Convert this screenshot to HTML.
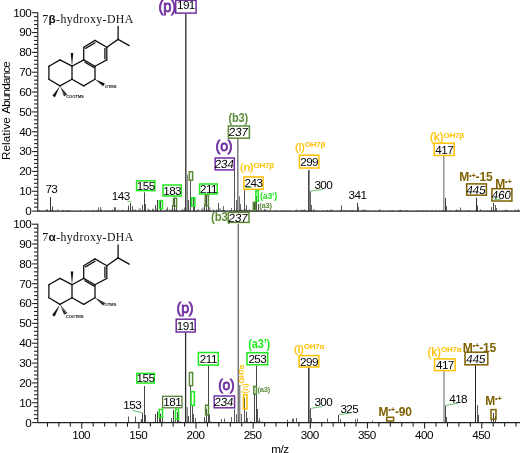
<!DOCTYPE html>
<html><head><meta charset="utf-8"><title>Mass spectra</title>
<style>
html,body{margin:0;padding:0;background:#fff}
body{width:520px;height:453px;overflow:hidden}
.ax{font-family:"Liberation Sans",Arial,sans-serif;font-size:11.7px;fill:#000;letter-spacing:-0.55px}
.lb{font-family:"Liberation Sans",Arial,sans-serif;font-weight:bold;letter-spacing:-0.2px}
.ti{font-family:"Liberation Serif","Times New Roman",serif;font-size:11.8px;fill:#111;letter-spacing:0.4px}
.gk{font-family:"Liberation Sans",sans-serif;font-weight:bold}
.tiny{font-family:"Liberation Sans",sans-serif;font-size:4.2px;fill:#111;font-weight:bold;letter-spacing:-0.15px}
</style></head><body>
<svg width="520" height="453" viewBox="0 0 520 453" style="display:block">
<rect width="520" height="453" fill="#fff"/>
<g id="noise">
<line x1="38.32" y1="210.42" x2="38.32" y2="211.10" stroke="#444" stroke-width="0.8"/>
<line x1="39.46" y1="210.38" x2="39.46" y2="211.10" stroke="#444" stroke-width="0.8"/>
<line x1="41.75" y1="210.79" x2="41.75" y2="211.10" stroke="#444" stroke-width="0.8"/>
<line x1="44.04" y1="210.64" x2="44.04" y2="211.10" stroke="#444" stroke-width="0.8"/>
<line x1="46.32" y1="209.26" x2="46.32" y2="211.10" stroke="#444" stroke-width="0.8"/>
<line x1="47.46" y1="209.46" x2="47.46" y2="211.10" stroke="#444" stroke-width="0.8"/>
<line x1="48.61" y1="210.36" x2="48.61" y2="211.10" stroke="#444" stroke-width="0.8"/>
<line x1="50.89" y1="209.36" x2="50.89" y2="211.10" stroke="#444" stroke-width="0.8"/>
<line x1="53.18" y1="210.27" x2="53.18" y2="211.10" stroke="#444" stroke-width="0.8"/>
<line x1="55.46" y1="210.78" x2="55.46" y2="211.10" stroke="#444" stroke-width="0.8"/>
<line x1="57.75" y1="209.38" x2="57.75" y2="211.10" stroke="#444" stroke-width="0.8"/>
<line x1="62.32" y1="210.24" x2="62.32" y2="211.10" stroke="#444" stroke-width="0.8"/>
<line x1="63.46" y1="210.15" x2="63.46" y2="211.10" stroke="#444" stroke-width="0.8"/>
<line x1="65.75" y1="210.70" x2="65.75" y2="211.10" stroke="#444" stroke-width="0.8"/>
<line x1="66.89" y1="210.12" x2="66.89" y2="211.10" stroke="#444" stroke-width="0.8"/>
<line x1="68.04" y1="210.36" x2="68.04" y2="211.10" stroke="#444" stroke-width="0.8"/>
<line x1="69.18" y1="210.44" x2="69.18" y2="211.10" stroke="#444" stroke-width="0.8"/>
<line x1="70.32" y1="210.55" x2="70.32" y2="211.10" stroke="#444" stroke-width="0.8"/>
<line x1="80.61" y1="210.20" x2="80.61" y2="211.10" stroke="#444" stroke-width="0.8"/>
<line x1="86.32" y1="210.22" x2="86.32" y2="211.10" stroke="#444" stroke-width="0.8"/>
<line x1="88.61" y1="210.76" x2="88.61" y2="211.10" stroke="#444" stroke-width="0.8"/>
<line x1="92.04" y1="210.24" x2="92.04" y2="211.10" stroke="#444" stroke-width="0.8"/>
<line x1="93.18" y1="210.69" x2="93.18" y2="211.10" stroke="#444" stroke-width="0.8"/>
<line x1="94.32" y1="210.26" x2="94.32" y2="211.10" stroke="#444" stroke-width="0.8"/>
<line x1="96.61" y1="210.37" x2="96.61" y2="211.10" stroke="#444" stroke-width="0.8"/>
<line x1="97.75" y1="210.30" x2="97.75" y2="211.10" stroke="#444" stroke-width="0.8"/>
<line x1="98.89" y1="210.18" x2="98.89" y2="211.10" stroke="#444" stroke-width="0.8"/>
<line x1="101.18" y1="209.10" x2="101.18" y2="211.10" stroke="#444" stroke-width="0.8"/>
<line x1="102.32" y1="210.75" x2="102.32" y2="211.10" stroke="#444" stroke-width="0.8"/>
<line x1="104.61" y1="210.66" x2="104.61" y2="211.10" stroke="#444" stroke-width="0.8"/>
<line x1="105.75" y1="210.37" x2="105.75" y2="211.10" stroke="#444" stroke-width="0.8"/>
<line x1="106.89" y1="210.77" x2="106.89" y2="211.10" stroke="#444" stroke-width="0.8"/>
<line x1="109.18" y1="210.13" x2="109.18" y2="211.10" stroke="#444" stroke-width="0.8"/>
<line x1="111.46" y1="210.48" x2="111.46" y2="211.10" stroke="#444" stroke-width="0.8"/>
<line x1="112.61" y1="209.46" x2="112.61" y2="211.10" stroke="#444" stroke-width="0.8"/>
<line x1="118.32" y1="209.67" x2="118.32" y2="211.10" stroke="#444" stroke-width="0.8"/>
<line x1="120.61" y1="210.59" x2="120.61" y2="211.10" stroke="#444" stroke-width="0.8"/>
<line x1="122.89" y1="209.55" x2="122.89" y2="211.10" stroke="#444" stroke-width="0.8"/>
<line x1="124.04" y1="210.51" x2="124.04" y2="211.10" stroke="#444" stroke-width="0.8"/>
<line x1="126.32" y1="210.37" x2="126.32" y2="211.10" stroke="#444" stroke-width="0.8"/>
<line x1="127.46" y1="210.36" x2="127.46" y2="211.10" stroke="#444" stroke-width="0.8"/>
<line x1="128.61" y1="209.26" x2="128.61" y2="211.10" stroke="#444" stroke-width="0.8"/>
<line x1="132.04" y1="210.48" x2="132.04" y2="211.10" stroke="#444" stroke-width="0.8"/>
<line x1="133.18" y1="209.59" x2="133.18" y2="211.10" stroke="#444" stroke-width="0.8"/>
<line x1="134.32" y1="210.12" x2="134.32" y2="211.10" stroke="#444" stroke-width="0.8"/>
<line x1="135.46" y1="209.62" x2="135.46" y2="211.10" stroke="#444" stroke-width="0.8"/>
<line x1="136.61" y1="210.52" x2="136.61" y2="211.10" stroke="#444" stroke-width="0.8"/>
<line x1="137.75" y1="210.61" x2="137.75" y2="211.10" stroke="#444" stroke-width="0.8"/>
<line x1="138.89" y1="209.47" x2="138.89" y2="211.10" stroke="#444" stroke-width="0.8"/>
<line x1="140.04" y1="207.99" x2="140.04" y2="211.10" stroke="#444" stroke-width="0.8"/>
<line x1="141.18" y1="210.56" x2="141.18" y2="211.10" stroke="#444" stroke-width="0.8"/>
<line x1="143.46" y1="210.72" x2="143.46" y2="211.10" stroke="#444" stroke-width="0.8"/>
<line x1="144.61" y1="210.24" x2="144.61" y2="211.10" stroke="#444" stroke-width="0.8"/>
<line x1="145.75" y1="210.60" x2="145.75" y2="211.10" stroke="#444" stroke-width="0.8"/>
<line x1="148.04" y1="208.65" x2="148.04" y2="211.10" stroke="#444" stroke-width="0.8"/>
<line x1="149.18" y1="209.47" x2="149.18" y2="211.10" stroke="#444" stroke-width="0.8"/>
<line x1="150.32" y1="210.14" x2="150.32" y2="211.10" stroke="#444" stroke-width="0.8"/>
<line x1="152.61" y1="208.63" x2="152.61" y2="211.10" stroke="#444" stroke-width="0.8"/>
<line x1="153.75" y1="209.16" x2="153.75" y2="211.10" stroke="#444" stroke-width="0.8"/>
<line x1="156.04" y1="209.22" x2="156.04" y2="211.10" stroke="#444" stroke-width="0.8"/>
<line x1="157.18" y1="208.28" x2="157.18" y2="211.10" stroke="#444" stroke-width="0.8"/>
<line x1="158.32" y1="210.17" x2="158.32" y2="211.10" stroke="#444" stroke-width="0.8"/>
<line x1="161.75" y1="209.50" x2="161.75" y2="211.10" stroke="#444" stroke-width="0.8"/>
<line x1="164.04" y1="210.14" x2="164.04" y2="211.10" stroke="#444" stroke-width="0.8"/>
<line x1="165.18" y1="210.62" x2="165.18" y2="211.10" stroke="#444" stroke-width="0.8"/>
<line x1="166.32" y1="208.80" x2="166.32" y2="211.10" stroke="#444" stroke-width="0.8"/>
<line x1="167.46" y1="207.22" x2="167.46" y2="211.10" stroke="#444" stroke-width="0.8"/>
<line x1="169.75" y1="209.47" x2="169.75" y2="211.10" stroke="#444" stroke-width="0.8"/>
<line x1="170.89" y1="210.39" x2="170.89" y2="211.10" stroke="#444" stroke-width="0.8"/>
<line x1="172.04" y1="209.20" x2="172.04" y2="211.10" stroke="#444" stroke-width="0.8"/>
<line x1="174.32" y1="208.18" x2="174.32" y2="211.10" stroke="#444" stroke-width="0.8"/>
<line x1="175.46" y1="209.79" x2="175.46" y2="211.10" stroke="#444" stroke-width="0.8"/>
<line x1="176.61" y1="208.90" x2="176.61" y2="211.10" stroke="#444" stroke-width="0.8"/>
<line x1="177.75" y1="210.60" x2="177.75" y2="211.10" stroke="#444" stroke-width="0.8"/>
<line x1="178.89" y1="210.71" x2="178.89" y2="211.10" stroke="#444" stroke-width="0.8"/>
<line x1="181.18" y1="210.54" x2="181.18" y2="211.10" stroke="#444" stroke-width="0.8"/>
<line x1="182.32" y1="209.02" x2="182.32" y2="211.10" stroke="#444" stroke-width="0.8"/>
<line x1="183.46" y1="210.13" x2="183.46" y2="211.10" stroke="#444" stroke-width="0.8"/>
<line x1="184.61" y1="207.59" x2="184.61" y2="211.10" stroke="#444" stroke-width="0.8"/>
<line x1="185.75" y1="209.85" x2="185.75" y2="211.10" stroke="#444" stroke-width="0.8"/>
<line x1="186.89" y1="210.00" x2="186.89" y2="211.10" stroke="#444" stroke-width="0.8"/>
<line x1="188.04" y1="210.18" x2="188.04" y2="211.10" stroke="#444" stroke-width="0.8"/>
<line x1="189.18" y1="210.17" x2="189.18" y2="211.10" stroke="#444" stroke-width="0.8"/>
<line x1="190.32" y1="208.36" x2="190.32" y2="211.10" stroke="#444" stroke-width="0.8"/>
<line x1="194.89" y1="210.02" x2="194.89" y2="211.10" stroke="#444" stroke-width="0.8"/>
<line x1="197.18" y1="210.12" x2="197.18" y2="211.10" stroke="#444" stroke-width="0.8"/>
<line x1="198.32" y1="208.91" x2="198.32" y2="211.10" stroke="#444" stroke-width="0.8"/>
<line x1="201.75" y1="209.10" x2="201.75" y2="211.10" stroke="#444" stroke-width="0.8"/>
<line x1="202.89" y1="207.44" x2="202.89" y2="211.10" stroke="#444" stroke-width="0.8"/>
<line x1="204.04" y1="210.26" x2="204.04" y2="211.10" stroke="#444" stroke-width="0.8"/>
<line x1="206.32" y1="209.07" x2="206.32" y2="211.10" stroke="#444" stroke-width="0.8"/>
<line x1="207.46" y1="210.14" x2="207.46" y2="211.10" stroke="#444" stroke-width="0.8"/>
<line x1="208.61" y1="210.34" x2="208.61" y2="211.10" stroke="#444" stroke-width="0.8"/>
<line x1="209.75" y1="207.18" x2="209.75" y2="211.10" stroke="#444" stroke-width="0.8"/>
<line x1="210.89" y1="210.32" x2="210.89" y2="211.10" stroke="#444" stroke-width="0.8"/>
<line x1="213.18" y1="209.46" x2="213.18" y2="211.10" stroke="#444" stroke-width="0.8"/>
<line x1="214.32" y1="210.73" x2="214.32" y2="211.10" stroke="#444" stroke-width="0.8"/>
<line x1="216.61" y1="209.60" x2="216.61" y2="211.10" stroke="#444" stroke-width="0.8"/>
<line x1="217.75" y1="209.79" x2="217.75" y2="211.10" stroke="#444" stroke-width="0.8"/>
<line x1="220.04" y1="208.09" x2="220.04" y2="211.10" stroke="#444" stroke-width="0.8"/>
<line x1="221.18" y1="210.53" x2="221.18" y2="211.10" stroke="#444" stroke-width="0.8"/>
<line x1="222.32" y1="210.02" x2="222.32" y2="211.10" stroke="#444" stroke-width="0.8"/>
<line x1="223.46" y1="210.57" x2="223.46" y2="211.10" stroke="#444" stroke-width="0.8"/>
<line x1="224.61" y1="210.11" x2="224.61" y2="211.10" stroke="#444" stroke-width="0.8"/>
<line x1="230.32" y1="210.29" x2="230.32" y2="211.10" stroke="#444" stroke-width="0.8"/>
<line x1="231.46" y1="208.00" x2="231.46" y2="211.10" stroke="#444" stroke-width="0.8"/>
<line x1="233.75" y1="210.61" x2="233.75" y2="211.10" stroke="#444" stroke-width="0.8"/>
<line x1="234.89" y1="210.67" x2="234.89" y2="211.10" stroke="#444" stroke-width="0.8"/>
<line x1="237.18" y1="209.09" x2="237.18" y2="211.10" stroke="#444" stroke-width="0.8"/>
<line x1="239.46" y1="210.17" x2="239.46" y2="211.10" stroke="#444" stroke-width="0.8"/>
<line x1="241.75" y1="209.30" x2="241.75" y2="211.10" stroke="#444" stroke-width="0.8"/>
<line x1="242.89" y1="210.39" x2="242.89" y2="211.10" stroke="#444" stroke-width="0.8"/>
<line x1="244.04" y1="209.70" x2="244.04" y2="211.10" stroke="#444" stroke-width="0.8"/>
<line x1="245.18" y1="208.79" x2="245.18" y2="211.10" stroke="#444" stroke-width="0.8"/>
<line x1="246.32" y1="208.65" x2="246.32" y2="211.10" stroke="#444" stroke-width="0.8"/>
<line x1="247.46" y1="210.26" x2="247.46" y2="211.10" stroke="#444" stroke-width="0.8"/>
<line x1="248.61" y1="210.33" x2="248.61" y2="211.10" stroke="#444" stroke-width="0.8"/>
<line x1="249.75" y1="209.14" x2="249.75" y2="211.10" stroke="#444" stroke-width="0.8"/>
<line x1="252.04" y1="209.99" x2="252.04" y2="211.10" stroke="#444" stroke-width="0.8"/>
<line x1="253.18" y1="210.30" x2="253.18" y2="211.10" stroke="#444" stroke-width="0.8"/>
<line x1="254.32" y1="209.42" x2="254.32" y2="211.10" stroke="#444" stroke-width="0.8"/>
<line x1="255.46" y1="208.79" x2="255.46" y2="211.10" stroke="#444" stroke-width="0.8"/>
<line x1="256.61" y1="208.68" x2="256.61" y2="211.10" stroke="#444" stroke-width="0.8"/>
<line x1="257.75" y1="210.57" x2="257.75" y2="211.10" stroke="#444" stroke-width="0.8"/>
<line x1="261.18" y1="208.82" x2="261.18" y2="211.10" stroke="#444" stroke-width="0.8"/>
<line x1="263.46" y1="210.41" x2="263.46" y2="211.10" stroke="#444" stroke-width="0.8"/>
<line x1="264.61" y1="208.88" x2="264.61" y2="211.10" stroke="#444" stroke-width="0.8"/>
<line x1="265.75" y1="209.40" x2="265.75" y2="211.10" stroke="#444" stroke-width="0.8"/>
<line x1="266.89" y1="210.42" x2="266.89" y2="211.10" stroke="#444" stroke-width="0.8"/>
<line x1="269.18" y1="210.21" x2="269.18" y2="211.10" stroke="#444" stroke-width="0.8"/>
<line x1="270.32" y1="210.61" x2="270.32" y2="211.10" stroke="#444" stroke-width="0.8"/>
<line x1="271.46" y1="210.72" x2="271.46" y2="211.10" stroke="#444" stroke-width="0.8"/>
<line x1="274.89" y1="210.67" x2="274.89" y2="211.10" stroke="#444" stroke-width="0.8"/>
<line x1="276.04" y1="210.28" x2="276.04" y2="211.10" stroke="#444" stroke-width="0.8"/>
<line x1="280.61" y1="210.52" x2="280.61" y2="211.10" stroke="#444" stroke-width="0.8"/>
<line x1="281.75" y1="210.43" x2="281.75" y2="211.10" stroke="#444" stroke-width="0.8"/>
<line x1="284.04" y1="210.62" x2="284.04" y2="211.10" stroke="#444" stroke-width="0.8"/>
<line x1="286.32" y1="210.24" x2="286.32" y2="211.10" stroke="#444" stroke-width="0.8"/>
<line x1="289.75" y1="210.41" x2="289.75" y2="211.10" stroke="#444" stroke-width="0.8"/>
<line x1="295.46" y1="210.20" x2="295.46" y2="211.10" stroke="#444" stroke-width="0.8"/>
<line x1="296.61" y1="209.50" x2="296.61" y2="211.10" stroke="#444" stroke-width="0.8"/>
<line x1="298.89" y1="210.26" x2="298.89" y2="211.10" stroke="#444" stroke-width="0.8"/>
<line x1="301.18" y1="209.58" x2="301.18" y2="211.10" stroke="#444" stroke-width="0.8"/>
<line x1="302.32" y1="209.91" x2="302.32" y2="211.10" stroke="#444" stroke-width="0.8"/>
<line x1="303.46" y1="210.06" x2="303.46" y2="211.10" stroke="#444" stroke-width="0.8"/>
<line x1="304.61" y1="209.45" x2="304.61" y2="211.10" stroke="#444" stroke-width="0.8"/>
<line x1="305.75" y1="210.40" x2="305.75" y2="211.10" stroke="#444" stroke-width="0.8"/>
<line x1="309.18" y1="210.25" x2="309.18" y2="211.10" stroke="#444" stroke-width="0.8"/>
<line x1="311.46" y1="210.55" x2="311.46" y2="211.10" stroke="#444" stroke-width="0.8"/>
<line x1="312.61" y1="210.75" x2="312.61" y2="211.10" stroke="#444" stroke-width="0.8"/>
<line x1="313.75" y1="209.17" x2="313.75" y2="211.10" stroke="#444" stroke-width="0.8"/>
<line x1="314.89" y1="210.19" x2="314.89" y2="211.10" stroke="#444" stroke-width="0.8"/>
<line x1="317.18" y1="210.20" x2="317.18" y2="211.10" stroke="#444" stroke-width="0.8"/>
<line x1="322.89" y1="210.24" x2="322.89" y2="211.10" stroke="#444" stroke-width="0.8"/>
<line x1="326.32" y1="210.27" x2="326.32" y2="211.10" stroke="#444" stroke-width="0.8"/>
<line x1="327.46" y1="209.99" x2="327.46" y2="211.10" stroke="#444" stroke-width="0.8"/>
<line x1="328.61" y1="210.75" x2="328.61" y2="211.10" stroke="#444" stroke-width="0.8"/>
<line x1="329.75" y1="210.69" x2="329.75" y2="211.10" stroke="#444" stroke-width="0.8"/>
<line x1="330.89" y1="209.40" x2="330.89" y2="211.10" stroke="#444" stroke-width="0.8"/>
<line x1="332.04" y1="209.68" x2="332.04" y2="211.10" stroke="#444" stroke-width="0.8"/>
<line x1="334.32" y1="210.47" x2="334.32" y2="211.10" stroke="#444" stroke-width="0.8"/>
<line x1="336.61" y1="210.67" x2="336.61" y2="211.10" stroke="#444" stroke-width="0.8"/>
<line x1="340.04" y1="210.54" x2="340.04" y2="211.10" stroke="#444" stroke-width="0.8"/>
<line x1="341.18" y1="209.50" x2="341.18" y2="211.10" stroke="#444" stroke-width="0.8"/>
<line x1="342.32" y1="210.80" x2="342.32" y2="211.10" stroke="#444" stroke-width="0.8"/>
<line x1="343.46" y1="210.25" x2="343.46" y2="211.10" stroke="#444" stroke-width="0.8"/>
<line x1="344.61" y1="210.48" x2="344.61" y2="211.10" stroke="#444" stroke-width="0.8"/>
<line x1="345.75" y1="210.65" x2="345.75" y2="211.10" stroke="#444" stroke-width="0.8"/>
<line x1="346.89" y1="210.52" x2="346.89" y2="211.10" stroke="#444" stroke-width="0.8"/>
<line x1="348.04" y1="210.78" x2="348.04" y2="211.10" stroke="#444" stroke-width="0.8"/>
<line x1="349.18" y1="210.68" x2="349.18" y2="211.10" stroke="#444" stroke-width="0.8"/>
<line x1="350.32" y1="210.04" x2="350.32" y2="211.10" stroke="#444" stroke-width="0.8"/>
<line x1="351.46" y1="210.49" x2="351.46" y2="211.10" stroke="#444" stroke-width="0.8"/>
<line x1="352.61" y1="210.31" x2="352.61" y2="211.10" stroke="#444" stroke-width="0.8"/>
<line x1="353.75" y1="210.52" x2="353.75" y2="211.10" stroke="#444" stroke-width="0.8"/>
<line x1="354.89" y1="210.78" x2="354.89" y2="211.10" stroke="#444" stroke-width="0.8"/>
<line x1="357.18" y1="210.73" x2="357.18" y2="211.10" stroke="#444" stroke-width="0.8"/>
<line x1="358.32" y1="209.94" x2="358.32" y2="211.10" stroke="#444" stroke-width="0.8"/>
<line x1="360.61" y1="210.71" x2="360.61" y2="211.10" stroke="#444" stroke-width="0.8"/>
<line x1="361.75" y1="210.29" x2="361.75" y2="211.10" stroke="#444" stroke-width="0.8"/>
<line x1="362.89" y1="210.25" x2="362.89" y2="211.10" stroke="#444" stroke-width="0.8"/>
<line x1="364.04" y1="209.17" x2="364.04" y2="211.10" stroke="#444" stroke-width="0.8"/>
<line x1="365.18" y1="210.63" x2="365.18" y2="211.10" stroke="#444" stroke-width="0.8"/>
<line x1="366.32" y1="210.23" x2="366.32" y2="211.10" stroke="#444" stroke-width="0.8"/>
<line x1="368.61" y1="210.73" x2="368.61" y2="211.10" stroke="#444" stroke-width="0.8"/>
<line x1="373.18" y1="210.78" x2="373.18" y2="211.10" stroke="#444" stroke-width="0.8"/>
<line x1="374.32" y1="210.68" x2="374.32" y2="211.10" stroke="#444" stroke-width="0.8"/>
<line x1="375.46" y1="210.76" x2="375.46" y2="211.10" stroke="#444" stroke-width="0.8"/>
<line x1="378.89" y1="210.12" x2="378.89" y2="211.10" stroke="#444" stroke-width="0.8"/>
<line x1="380.04" y1="209.30" x2="380.04" y2="211.10" stroke="#444" stroke-width="0.8"/>
<line x1="383.46" y1="210.59" x2="383.46" y2="211.10" stroke="#444" stroke-width="0.8"/>
<line x1="386.89" y1="210.59" x2="386.89" y2="211.10" stroke="#444" stroke-width="0.8"/>
<line x1="389.18" y1="210.53" x2="389.18" y2="211.10" stroke="#444" stroke-width="0.8"/>
<line x1="390.32" y1="210.32" x2="390.32" y2="211.10" stroke="#444" stroke-width="0.8"/>
<line x1="392.61" y1="210.28" x2="392.61" y2="211.10" stroke="#444" stroke-width="0.8"/>
<line x1="398.32" y1="210.51" x2="398.32" y2="211.10" stroke="#444" stroke-width="0.8"/>
<line x1="399.46" y1="210.25" x2="399.46" y2="211.10" stroke="#444" stroke-width="0.8"/>
<line x1="400.61" y1="209.83" x2="400.61" y2="211.10" stroke="#444" stroke-width="0.8"/>
<line x1="401.75" y1="210.30" x2="401.75" y2="211.10" stroke="#444" stroke-width="0.8"/>
<line x1="405.18" y1="210.46" x2="405.18" y2="211.10" stroke="#444" stroke-width="0.8"/>
<line x1="406.32" y1="210.30" x2="406.32" y2="211.10" stroke="#444" stroke-width="0.8"/>
<line x1="407.46" y1="210.47" x2="407.46" y2="211.10" stroke="#444" stroke-width="0.8"/>
<line x1="410.89" y1="210.63" x2="410.89" y2="211.10" stroke="#444" stroke-width="0.8"/>
<line x1="416.61" y1="210.17" x2="416.61" y2="211.10" stroke="#444" stroke-width="0.8"/>
<line x1="418.89" y1="210.54" x2="418.89" y2="211.10" stroke="#444" stroke-width="0.8"/>
<line x1="420.04" y1="210.52" x2="420.04" y2="211.10" stroke="#444" stroke-width="0.8"/>
<line x1="422.32" y1="210.40" x2="422.32" y2="211.10" stroke="#444" stroke-width="0.8"/>
<line x1="423.46" y1="210.74" x2="423.46" y2="211.10" stroke="#444" stroke-width="0.8"/>
<line x1="425.75" y1="210.77" x2="425.75" y2="211.10" stroke="#444" stroke-width="0.8"/>
<line x1="426.89" y1="210.35" x2="426.89" y2="211.10" stroke="#444" stroke-width="0.8"/>
<line x1="429.18" y1="210.64" x2="429.18" y2="211.10" stroke="#444" stroke-width="0.8"/>
<line x1="431.46" y1="210.41" x2="431.46" y2="211.10" stroke="#444" stroke-width="0.8"/>
<line x1="432.61" y1="210.25" x2="432.61" y2="211.10" stroke="#444" stroke-width="0.8"/>
<line x1="436.04" y1="209.91" x2="436.04" y2="211.10" stroke="#444" stroke-width="0.8"/>
<line x1="437.18" y1="210.74" x2="437.18" y2="211.10" stroke="#444" stroke-width="0.8"/>
<line x1="439.46" y1="210.78" x2="439.46" y2="211.10" stroke="#444" stroke-width="0.8"/>
<line x1="441.75" y1="210.17" x2="441.75" y2="211.10" stroke="#444" stroke-width="0.8"/>
<line x1="442.89" y1="210.47" x2="442.89" y2="211.10" stroke="#444" stroke-width="0.8"/>
<line x1="444.04" y1="210.22" x2="444.04" y2="211.10" stroke="#444" stroke-width="0.8"/>
<line x1="449.75" y1="210.38" x2="449.75" y2="211.10" stroke="#444" stroke-width="0.8"/>
<line x1="450.89" y1="210.72" x2="450.89" y2="211.10" stroke="#444" stroke-width="0.8"/>
<line x1="455.46" y1="210.42" x2="455.46" y2="211.10" stroke="#444" stroke-width="0.8"/>
<line x1="456.61" y1="209.37" x2="456.61" y2="211.10" stroke="#444" stroke-width="0.8"/>
<line x1="457.75" y1="210.56" x2="457.75" y2="211.10" stroke="#444" stroke-width="0.8"/>
<line x1="458.89" y1="210.03" x2="458.89" y2="211.10" stroke="#444" stroke-width="0.8"/>
<line x1="462.32" y1="210.35" x2="462.32" y2="211.10" stroke="#444" stroke-width="0.8"/>
<line x1="464.61" y1="210.55" x2="464.61" y2="211.10" stroke="#444" stroke-width="0.8"/>
<line x1="466.89" y1="210.50" x2="466.89" y2="211.10" stroke="#444" stroke-width="0.8"/>
<line x1="468.04" y1="210.65" x2="468.04" y2="211.10" stroke="#444" stroke-width="0.8"/>
<line x1="469.18" y1="210.15" x2="469.18" y2="211.10" stroke="#444" stroke-width="0.8"/>
<line x1="476.04" y1="209.68" x2="476.04" y2="211.10" stroke="#444" stroke-width="0.8"/>
<line x1="480.61" y1="209.33" x2="480.61" y2="211.10" stroke="#444" stroke-width="0.8"/>
<line x1="481.75" y1="210.10" x2="481.75" y2="211.10" stroke="#444" stroke-width="0.8"/>
<line x1="484.04" y1="210.15" x2="484.04" y2="211.10" stroke="#444" stroke-width="0.8"/>
<line x1="485.18" y1="210.73" x2="485.18" y2="211.10" stroke="#444" stroke-width="0.8"/>
<line x1="487.46" y1="210.44" x2="487.46" y2="211.10" stroke="#444" stroke-width="0.8"/>
<line x1="489.75" y1="210.28" x2="489.75" y2="211.10" stroke="#444" stroke-width="0.8"/>
<line x1="490.89" y1="210.50" x2="490.89" y2="211.10" stroke="#444" stroke-width="0.8"/>
<line x1="492.04" y1="210.28" x2="492.04" y2="211.10" stroke="#444" stroke-width="0.8"/>
<line x1="494.32" y1="210.73" x2="494.32" y2="211.10" stroke="#444" stroke-width="0.8"/>
<line x1="495.46" y1="210.51" x2="495.46" y2="211.10" stroke="#444" stroke-width="0.8"/>
<line x1="496.61" y1="210.69" x2="496.61" y2="211.10" stroke="#444" stroke-width="0.8"/>
<line x1="503.46" y1="210.69" x2="503.46" y2="211.10" stroke="#444" stroke-width="0.8"/>
<line x1="504.61" y1="210.48" x2="504.61" y2="211.10" stroke="#444" stroke-width="0.8"/>
<line x1="505.75" y1="209.56" x2="505.75" y2="211.10" stroke="#444" stroke-width="0.8"/>
<line x1="506.89" y1="210.20" x2="506.89" y2="211.10" stroke="#444" stroke-width="0.8"/>
<line x1="508.04" y1="210.48" x2="508.04" y2="211.10" stroke="#444" stroke-width="0.8"/>
<line x1="511.46" y1="210.63" x2="511.46" y2="211.10" stroke="#444" stroke-width="0.8"/>
<line x1="513.75" y1="210.71" x2="513.75" y2="211.10" stroke="#444" stroke-width="0.8"/>
<line x1="514.89" y1="209.56" x2="514.89" y2="211.10" stroke="#444" stroke-width="0.8"/>
<line x1="516.04" y1="210.76" x2="516.04" y2="211.10" stroke="#444" stroke-width="0.8"/>
<line x1="517.18" y1="210.26" x2="517.18" y2="211.10" stroke="#444" stroke-width="0.8"/>
<line x1="518.32" y1="209.12" x2="518.32" y2="211.10" stroke="#444" stroke-width="0.8"/>
<line x1="40.61" y1="422.21" x2="40.61" y2="422.60" stroke="#444" stroke-width="0.8"/>
<line x1="41.75" y1="422.08" x2="41.75" y2="422.60" stroke="#444" stroke-width="0.8"/>
<line x1="44.04" y1="422.03" x2="44.04" y2="422.60" stroke="#444" stroke-width="0.8"/>
<line x1="45.18" y1="422.14" x2="45.18" y2="422.60" stroke="#444" stroke-width="0.8"/>
<line x1="50.89" y1="422.09" x2="50.89" y2="422.60" stroke="#444" stroke-width="0.8"/>
<line x1="57.75" y1="421.92" x2="57.75" y2="422.60" stroke="#444" stroke-width="0.8"/>
<line x1="64.61" y1="422.29" x2="64.61" y2="422.60" stroke="#444" stroke-width="0.8"/>
<line x1="77.18" y1="422.21" x2="77.18" y2="422.60" stroke="#444" stroke-width="0.8"/>
<line x1="88.61" y1="422.14" x2="88.61" y2="422.60" stroke="#444" stroke-width="0.8"/>
<line x1="96.61" y1="422.01" x2="96.61" y2="422.60" stroke="#444" stroke-width="0.8"/>
<line x1="103.46" y1="421.97" x2="103.46" y2="422.60" stroke="#444" stroke-width="0.8"/>
<line x1="124.04" y1="422.17" x2="124.04" y2="422.60" stroke="#444" stroke-width="0.8"/>
<line x1="126.32" y1="422.19" x2="126.32" y2="422.60" stroke="#444" stroke-width="0.8"/>
<line x1="128.61" y1="422.04" x2="128.61" y2="422.60" stroke="#444" stroke-width="0.8"/>
<line x1="134.32" y1="422.16" x2="134.32" y2="422.60" stroke="#444" stroke-width="0.8"/>
<line x1="136.61" y1="422.17" x2="136.61" y2="422.60" stroke="#444" stroke-width="0.8"/>
<line x1="140.04" y1="422.08" x2="140.04" y2="422.60" stroke="#444" stroke-width="0.8"/>
<line x1="141.18" y1="420.61" x2="141.18" y2="422.60" stroke="#444" stroke-width="0.8"/>
<line x1="142.32" y1="421.80" x2="142.32" y2="422.60" stroke="#444" stroke-width="0.8"/>
<line x1="144.61" y1="422.18" x2="144.61" y2="422.60" stroke="#444" stroke-width="0.8"/>
<line x1="146.89" y1="421.82" x2="146.89" y2="422.60" stroke="#444" stroke-width="0.8"/>
<line x1="148.04" y1="421.74" x2="148.04" y2="422.60" stroke="#444" stroke-width="0.8"/>
<line x1="150.32" y1="422.24" x2="150.32" y2="422.60" stroke="#444" stroke-width="0.8"/>
<line x1="151.46" y1="422.18" x2="151.46" y2="422.60" stroke="#444" stroke-width="0.8"/>
<line x1="153.75" y1="421.82" x2="153.75" y2="422.60" stroke="#444" stroke-width="0.8"/>
<line x1="161.75" y1="421.29" x2="161.75" y2="422.60" stroke="#444" stroke-width="0.8"/>
<line x1="164.04" y1="421.82" x2="164.04" y2="422.60" stroke="#444" stroke-width="0.8"/>
<line x1="165.18" y1="422.05" x2="165.18" y2="422.60" stroke="#444" stroke-width="0.8"/>
<line x1="172.04" y1="422.03" x2="172.04" y2="422.60" stroke="#444" stroke-width="0.8"/>
<line x1="173.18" y1="420.89" x2="173.18" y2="422.60" stroke="#444" stroke-width="0.8"/>
<line x1="174.32" y1="421.81" x2="174.32" y2="422.60" stroke="#444" stroke-width="0.8"/>
<line x1="177.75" y1="420.45" x2="177.75" y2="422.60" stroke="#444" stroke-width="0.8"/>
<line x1="178.89" y1="421.50" x2="178.89" y2="422.60" stroke="#444" stroke-width="0.8"/>
<line x1="180.04" y1="421.18" x2="180.04" y2="422.60" stroke="#444" stroke-width="0.8"/>
<line x1="186.89" y1="422.09" x2="186.89" y2="422.60" stroke="#444" stroke-width="0.8"/>
<line x1="188.04" y1="420.72" x2="188.04" y2="422.60" stroke="#444" stroke-width="0.8"/>
<line x1="190.32" y1="421.39" x2="190.32" y2="422.60" stroke="#444" stroke-width="0.8"/>
<line x1="193.75" y1="421.49" x2="193.75" y2="422.60" stroke="#444" stroke-width="0.8"/>
<line x1="197.18" y1="422.12" x2="197.18" y2="422.60" stroke="#444" stroke-width="0.8"/>
<line x1="199.46" y1="421.64" x2="199.46" y2="422.60" stroke="#444" stroke-width="0.8"/>
<line x1="200.61" y1="422.03" x2="200.61" y2="422.60" stroke="#444" stroke-width="0.8"/>
<line x1="205.18" y1="420.66" x2="205.18" y2="422.60" stroke="#444" stroke-width="0.8"/>
<line x1="207.46" y1="422.18" x2="207.46" y2="422.60" stroke="#444" stroke-width="0.8"/>
<line x1="209.75" y1="422.29" x2="209.75" y2="422.60" stroke="#444" stroke-width="0.8"/>
<line x1="210.89" y1="421.28" x2="210.89" y2="422.60" stroke="#444" stroke-width="0.8"/>
<line x1="215.46" y1="421.81" x2="215.46" y2="422.60" stroke="#444" stroke-width="0.8"/>
<line x1="216.61" y1="422.08" x2="216.61" y2="422.60" stroke="#444" stroke-width="0.8"/>
<line x1="224.61" y1="419.92" x2="224.61" y2="422.60" stroke="#444" stroke-width="0.8"/>
<line x1="226.89" y1="422.18" x2="226.89" y2="422.60" stroke="#444" stroke-width="0.8"/>
<line x1="231.46" y1="420.62" x2="231.46" y2="422.60" stroke="#444" stroke-width="0.8"/>
<line x1="232.61" y1="422.03" x2="232.61" y2="422.60" stroke="#444" stroke-width="0.8"/>
<line x1="237.18" y1="422.17" x2="237.18" y2="422.60" stroke="#444" stroke-width="0.8"/>
<line x1="238.32" y1="420.79" x2="238.32" y2="422.60" stroke="#444" stroke-width="0.8"/>
<line x1="239.46" y1="420.59" x2="239.46" y2="422.60" stroke="#444" stroke-width="0.8"/>
<line x1="240.61" y1="422.19" x2="240.61" y2="422.60" stroke="#444" stroke-width="0.8"/>
<line x1="241.75" y1="422.05" x2="241.75" y2="422.60" stroke="#444" stroke-width="0.8"/>
<line x1="244.04" y1="422.10" x2="244.04" y2="422.60" stroke="#444" stroke-width="0.8"/>
<line x1="245.18" y1="420.65" x2="245.18" y2="422.60" stroke="#444" stroke-width="0.8"/>
<line x1="246.32" y1="422.12" x2="246.32" y2="422.60" stroke="#444" stroke-width="0.8"/>
<line x1="250.89" y1="420.95" x2="250.89" y2="422.60" stroke="#444" stroke-width="0.8"/>
<line x1="254.32" y1="420.87" x2="254.32" y2="422.60" stroke="#444" stroke-width="0.8"/>
<line x1="256.61" y1="420.62" x2="256.61" y2="422.60" stroke="#444" stroke-width="0.8"/>
<line x1="257.75" y1="420.80" x2="257.75" y2="422.60" stroke="#444" stroke-width="0.8"/>
<line x1="258.89" y1="420.41" x2="258.89" y2="422.60" stroke="#444" stroke-width="0.8"/>
<line x1="260.04" y1="421.02" x2="260.04" y2="422.60" stroke="#444" stroke-width="0.8"/>
<line x1="262.32" y1="421.44" x2="262.32" y2="422.60" stroke="#444" stroke-width="0.8"/>
<line x1="277.18" y1="421.76" x2="277.18" y2="422.60" stroke="#444" stroke-width="0.8"/>
<line x1="279.46" y1="422.02" x2="279.46" y2="422.60" stroke="#444" stroke-width="0.8"/>
<line x1="280.61" y1="422.13" x2="280.61" y2="422.60" stroke="#444" stroke-width="0.8"/>
<line x1="284.04" y1="421.99" x2="284.04" y2="422.60" stroke="#444" stroke-width="0.8"/>
<line x1="285.18" y1="422.25" x2="285.18" y2="422.60" stroke="#444" stroke-width="0.8"/>
<line x1="288.61" y1="422.16" x2="288.61" y2="422.60" stroke="#444" stroke-width="0.8"/>
<line x1="289.75" y1="421.46" x2="289.75" y2="422.60" stroke="#444" stroke-width="0.8"/>
<line x1="297.75" y1="421.95" x2="297.75" y2="422.60" stroke="#444" stroke-width="0.8"/>
<line x1="301.18" y1="421.80" x2="301.18" y2="422.60" stroke="#444" stroke-width="0.8"/>
<line x1="306.89" y1="421.95" x2="306.89" y2="422.60" stroke="#444" stroke-width="0.8"/>
<line x1="309.18" y1="422.22" x2="309.18" y2="422.60" stroke="#444" stroke-width="0.8"/>
<line x1="318.32" y1="422.02" x2="318.32" y2="422.60" stroke="#444" stroke-width="0.8"/>
<line x1="322.89" y1="421.81" x2="322.89" y2="422.60" stroke="#444" stroke-width="0.8"/>
<line x1="327.46" y1="422.03" x2="327.46" y2="422.60" stroke="#444" stroke-width="0.8"/>
<line x1="330.89" y1="422.23" x2="330.89" y2="422.60" stroke="#444" stroke-width="0.8"/>
<line x1="334.32" y1="422.30" x2="334.32" y2="422.60" stroke="#444" stroke-width="0.8"/>
<line x1="335.46" y1="421.91" x2="335.46" y2="422.60" stroke="#444" stroke-width="0.8"/>
<line x1="343.46" y1="422.16" x2="343.46" y2="422.60" stroke="#444" stroke-width="0.8"/>
<line x1="345.75" y1="422.28" x2="345.75" y2="422.60" stroke="#444" stroke-width="0.8"/>
<line x1="350.32" y1="421.90" x2="350.32" y2="422.60" stroke="#444" stroke-width="0.8"/>
<line x1="364.04" y1="422.14" x2="364.04" y2="422.60" stroke="#444" stroke-width="0.8"/>
<line x1="369.75" y1="422.29" x2="369.75" y2="422.60" stroke="#444" stroke-width="0.8"/>
<line x1="383.46" y1="421.90" x2="383.46" y2="422.60" stroke="#444" stroke-width="0.8"/>
<line x1="385.75" y1="421.84" x2="385.75" y2="422.60" stroke="#444" stroke-width="0.8"/>
<line x1="390.32" y1="421.80" x2="390.32" y2="422.60" stroke="#444" stroke-width="0.8"/>
<line x1="391.46" y1="422.12" x2="391.46" y2="422.60" stroke="#444" stroke-width="0.8"/>
<line x1="393.75" y1="422.05" x2="393.75" y2="422.60" stroke="#444" stroke-width="0.8"/>
<line x1="399.46" y1="422.06" x2="399.46" y2="422.60" stroke="#444" stroke-width="0.8"/>
<line x1="400.61" y1="421.95" x2="400.61" y2="422.60" stroke="#444" stroke-width="0.8"/>
<line x1="404.04" y1="421.96" x2="404.04" y2="422.60" stroke="#444" stroke-width="0.8"/>
<line x1="409.75" y1="421.99" x2="409.75" y2="422.60" stroke="#444" stroke-width="0.8"/>
<line x1="410.89" y1="421.82" x2="410.89" y2="422.60" stroke="#444" stroke-width="0.8"/>
<line x1="412.04" y1="421.82" x2="412.04" y2="422.60" stroke="#444" stroke-width="0.8"/>
<line x1="414.32" y1="421.93" x2="414.32" y2="422.60" stroke="#444" stroke-width="0.8"/>
<line x1="420.04" y1="421.96" x2="420.04" y2="422.60" stroke="#444" stroke-width="0.8"/>
<line x1="423.46" y1="422.27" x2="423.46" y2="422.60" stroke="#444" stroke-width="0.8"/>
<line x1="433.75" y1="422.15" x2="433.75" y2="422.60" stroke="#444" stroke-width="0.8"/>
<line x1="447.46" y1="422.18" x2="447.46" y2="422.60" stroke="#444" stroke-width="0.8"/>
<line x1="453.18" y1="422.21" x2="453.18" y2="422.60" stroke="#444" stroke-width="0.8"/>
<line x1="461.18" y1="421.93" x2="461.18" y2="422.60" stroke="#444" stroke-width="0.8"/>
<line x1="473.75" y1="421.92" x2="473.75" y2="422.60" stroke="#444" stroke-width="0.8"/>
<line x1="490.89" y1="421.91" x2="490.89" y2="422.60" stroke="#444" stroke-width="0.8"/>
<line x1="493.18" y1="422.00" x2="493.18" y2="422.60" stroke="#444" stroke-width="0.8"/>
<line x1="500.04" y1="422.19" x2="500.04" y2="422.60" stroke="#444" stroke-width="0.8"/>
<line x1="508.04" y1="421.83" x2="508.04" y2="422.60" stroke="#444" stroke-width="0.8"/>
<line x1="513.75" y1="421.86" x2="513.75" y2="422.60" stroke="#444" stroke-width="0.8"/>
</g>
<line x1="50.50" y1="197.00" x2="50.50" y2="211.10" stroke="#333" stroke-width="1"/>
<line x1="52.50" y1="206.50" x2="52.50" y2="211.10" stroke="#555" stroke-width="1"/>
<line x1="128.50" y1="205.50" x2="128.50" y2="211.10" stroke="#555" stroke-width="1"/>
<line x1="130.50" y1="203.00" x2="130.50" y2="211.10" stroke="#444" stroke-width="1"/>
<line x1="132.50" y1="206.00" x2="132.50" y2="211.10" stroke="#555" stroke-width="1"/>
<line x1="114.50" y1="207.00" x2="114.50" y2="211.10" stroke="#666" stroke-width="1"/>
<line x1="115.50" y1="207.50" x2="115.50" y2="211.10" stroke="#666" stroke-width="1"/>
<line x1="98.50" y1="207.50" x2="98.50" y2="211.10" stroke="#666" stroke-width="1"/>
<line x1="100.50" y1="207.00" x2="100.50" y2="211.10" stroke="#666" stroke-width="1"/>
<line x1="144.50" y1="192.30" x2="144.50" y2="211.10" stroke="#444" stroke-width="1"/>
<line x1="145.50" y1="204.00" x2="145.50" y2="211.10" stroke="#555" stroke-width="1"/>
<line x1="142.50" y1="205.00" x2="142.50" y2="211.10" stroke="#555" stroke-width="1"/>
<line x1="157.50" y1="200.00" x2="157.50" y2="211.10" stroke="#444" stroke-width="1"/>
<line x1="160.50" y1="201.00" x2="160.50" y2="211.10" stroke="#444" stroke-width="1"/>
<line x1="155.50" y1="205.00" x2="155.50" y2="211.10" stroke="#555" stroke-width="1"/>
<line x1="172.50" y1="205.00" x2="172.50" y2="211.10" stroke="#555" stroke-width="1"/>
<line x1="174.50" y1="199.00" x2="174.50" y2="211.10" stroke="#444" stroke-width="1"/>
<line x1="176.50" y1="204.00" x2="176.50" y2="211.10" stroke="#555" stroke-width="1"/>
<line x1="185.80" y1="13.50" x2="185.80" y2="211.10" stroke="#2a2a2a" stroke-width="1.3"/>
<line x1="187.30" y1="174.60" x2="187.30" y2="211.10" stroke="#888" stroke-width="1.5"/>
<line x1="188.50" y1="200.00" x2="188.50" y2="211.10" stroke="#555" stroke-width="1"/>
<line x1="190.50" y1="180.00" x2="190.50" y2="211.10" stroke="#555" stroke-width="1"/>
<line x1="193.50" y1="197.00" x2="193.50" y2="211.10" stroke="#555" stroke-width="1"/>
<line x1="194.50" y1="205.00" x2="194.50" y2="211.10" stroke="#555" stroke-width="1"/>
<line x1="204.50" y1="204.00" x2="204.50" y2="211.10" stroke="#555" stroke-width="1"/>
<line x1="206.50" y1="196.00" x2="206.50" y2="211.10" stroke="#444" stroke-width="1"/>
<line x1="208.50" y1="203.00" x2="208.50" y2="211.10" stroke="#555" stroke-width="1"/>
<line x1="218.50" y1="203.00" x2="218.50" y2="211.10" stroke="#555" stroke-width="1"/>
<line x1="223.50" y1="206.00" x2="223.50" y2="211.10" stroke="#666" stroke-width="1"/>
<line x1="234.50" y1="170.40" x2="234.50" y2="211.10" stroke="#555" stroke-width="1"/>
<line x1="236.50" y1="200.00" x2="236.50" y2="211.10" stroke="#666" stroke-width="1"/>
<line x1="237.80" y1="138.60" x2="237.80" y2="211.10" stroke="#7a7a7a" stroke-width="1.5"/>
<line x1="239.40" y1="196.30" x2="239.40" y2="211.10" stroke="#777" stroke-width="1.3"/>
<line x1="240.50" y1="204.00" x2="240.50" y2="211.10" stroke="#666" stroke-width="1"/>
<line x1="244.50" y1="189.80" x2="244.50" y2="211.10" stroke="#555" stroke-width="1"/>
<line x1="246.50" y1="205.00" x2="246.50" y2="211.10" stroke="#666" stroke-width="1"/>
<line x1="254.50" y1="203.00" x2="254.50" y2="211.10" stroke="#444" stroke-width="1"/>
<line x1="256.50" y1="196.00" x2="256.50" y2="211.10" stroke="#444" stroke-width="1"/>
<line x1="258.50" y1="204.00" x2="258.50" y2="211.10" stroke="#555" stroke-width="1"/>
<line x1="308.80" y1="170.00" x2="308.80" y2="211.10" stroke="#444" stroke-width="1.6"/>
<line x1="310.30" y1="191.20" x2="310.30" y2="211.10" stroke="#555" stroke-width="1.2"/>
<line x1="311.50" y1="205.00" x2="311.50" y2="211.10" stroke="#666" stroke-width="1"/>
<line x1="341.50" y1="205.40" x2="341.50" y2="211.10" stroke="#555" stroke-width="1"/>
<line x1="357.50" y1="202.70" x2="357.50" y2="211.10" stroke="#444" stroke-width="1"/>
<line x1="358.50" y1="207.00" x2="358.50" y2="211.10" stroke="#666" stroke-width="1"/>
<line x1="443.80" y1="156.00" x2="443.80" y2="211.10" stroke="#888" stroke-width="1.3"/>
<line x1="445.50" y1="198.00" x2="445.50" y2="211.10" stroke="#444" stroke-width="1"/>
<line x1="446.50" y1="206.00" x2="446.50" y2="211.10" stroke="#555" stroke-width="1"/>
<line x1="476.50" y1="197.60" x2="476.50" y2="211.10" stroke="#333" stroke-width="1"/>
<line x1="477.50" y1="205.50" x2="477.50" y2="211.10" stroke="#555" stroke-width="1"/>
<line x1="460.50" y1="207.50" x2="460.50" y2="211.10" stroke="#666" stroke-width="1"/>
<line x1="493.50" y1="202.80" x2="493.50" y2="211.10" stroke="#444" stroke-width="1"/>
<line x1="495.50" y1="205.00" x2="495.50" y2="211.10" stroke="#555" stroke-width="1"/>
<line x1="496.50" y1="208.00" x2="496.50" y2="211.10" stroke="#666" stroke-width="1"/>
<line x1="491.50" y1="207.00" x2="491.50" y2="211.10" stroke="#666" stroke-width="1"/>
<line x1="128.50" y1="416.50" x2="128.50" y2="422.60" stroke="#555" stroke-width="1"/>
<line x1="135.50" y1="416.50" x2="135.50" y2="422.60" stroke="#555" stroke-width="1"/>
<line x1="141.50" y1="419.00" x2="141.50" y2="422.60" stroke="#555" stroke-width="1"/>
<line x1="142.50" y1="412.70" x2="142.50" y2="422.60" stroke="#444" stroke-width="1"/>
<line x1="144.50" y1="386.00" x2="144.50" y2="422.60" stroke="#444" stroke-width="1"/>
<line x1="145.50" y1="415.00" x2="145.50" y2="422.60" stroke="#555" stroke-width="1"/>
<line x1="155.50" y1="414.00" x2="155.50" y2="422.60" stroke="#444" stroke-width="1"/>
<line x1="157.50" y1="411.50" x2="157.50" y2="422.60" stroke="#444" stroke-width="1"/>
<line x1="159.50" y1="417.00" x2="159.50" y2="422.60" stroke="#555" stroke-width="1"/>
<line x1="160.50" y1="413.50" x2="160.50" y2="422.60" stroke="#444" stroke-width="1"/>
<line x1="162.50" y1="418.00" x2="162.50" y2="422.60" stroke="#555" stroke-width="1"/>
<line x1="171.50" y1="418.00" x2="171.50" y2="422.60" stroke="#555" stroke-width="1"/>
<line x1="173.50" y1="410.20" x2="173.50" y2="422.60" stroke="#444" stroke-width="1"/>
<line x1="175.50" y1="417.00" x2="175.50" y2="422.60" stroke="#555" stroke-width="1"/>
<line x1="177.50" y1="412.00" x2="177.50" y2="422.60" stroke="#444" stroke-width="1"/>
<line x1="178.50" y1="417.00" x2="178.50" y2="422.60" stroke="#555" stroke-width="1"/>
<line x1="185.60" y1="332.50" x2="185.60" y2="422.60" stroke="#2a2a2a" stroke-width="1.3"/>
<line x1="187.20" y1="407.30" x2="187.20" y2="422.60" stroke="#777" stroke-width="1.4"/>
<line x1="188.50" y1="416.00" x2="188.50" y2="422.60" stroke="#555" stroke-width="1"/>
<line x1="190.50" y1="385.80" x2="190.50" y2="422.60" stroke="#555" stroke-width="1"/>
<line x1="192.50" y1="405.00" x2="192.50" y2="422.60" stroke="#555" stroke-width="1"/>
<line x1="193.50" y1="414.00" x2="193.50" y2="422.60" stroke="#555" stroke-width="1"/>
<line x1="195.50" y1="418.00" x2="195.50" y2="422.60" stroke="#666" stroke-width="1"/>
<line x1="204.50" y1="417.00" x2="204.50" y2="422.60" stroke="#555" stroke-width="1"/>
<line x1="206.50" y1="409.00" x2="206.50" y2="422.60" stroke="#444" stroke-width="1"/>
<line x1="208.50" y1="365.60" x2="208.50" y2="422.60" stroke="#444" stroke-width="1"/>
<line x1="209.50" y1="414.00" x2="209.50" y2="422.60" stroke="#555" stroke-width="1"/>
<line x1="221.50" y1="419.00" x2="221.50" y2="422.60" stroke="#666" stroke-width="1"/>
<line x1="224.50" y1="418.50" x2="224.50" y2="422.60" stroke="#666" stroke-width="1"/>
<line x1="231.50" y1="417.00" x2="231.50" y2="422.60" stroke="#666" stroke-width="1"/>
<line x1="234.50" y1="409.20" x2="234.50" y2="422.60" stroke="#555" stroke-width="1"/>
<line x1="236.50" y1="414.00" x2="236.50" y2="422.60" stroke="#666" stroke-width="1"/>
<line x1="238.30" y1="224.00" x2="238.30" y2="422.60" stroke="#777" stroke-width="1.5"/>
<line x1="239.70" y1="385.00" x2="239.70" y2="422.60" stroke="#888" stroke-width="1.4"/>
<line x1="241.50" y1="414.00" x2="241.50" y2="422.60" stroke="#666" stroke-width="1"/>
<line x1="244.50" y1="397.70" x2="244.50" y2="422.60" stroke="#555" stroke-width="1"/>
<line x1="246.50" y1="411.50" x2="246.50" y2="422.60" stroke="#555" stroke-width="1"/>
<line x1="247.50" y1="418.00" x2="247.50" y2="422.60" stroke="#666" stroke-width="1"/>
<line x1="254.50" y1="394.00" x2="254.50" y2="422.60" stroke="#444" stroke-width="1"/>
<line x1="256.50" y1="365.40" x2="256.50" y2="422.60" stroke="#444" stroke-width="1"/>
<line x1="257.50" y1="409.00" x2="257.50" y2="422.60" stroke="#555" stroke-width="1"/>
<line x1="259.50" y1="418.00" x2="259.50" y2="422.60" stroke="#666" stroke-width="1"/>
<line x1="296.50" y1="418.00" x2="296.50" y2="422.60" stroke="#666" stroke-width="1"/>
<line x1="292.50" y1="418.50" x2="292.50" y2="422.60" stroke="#666" stroke-width="1"/>
<line x1="308.80" y1="367.40" x2="308.80" y2="422.60" stroke="#444" stroke-width="1.6"/>
<line x1="310.40" y1="408.50" x2="310.40" y2="422.60" stroke="#555" stroke-width="1.2"/>
<line x1="311.50" y1="418.00" x2="311.50" y2="422.60" stroke="#666" stroke-width="1"/>
<line x1="338.50" y1="415.00" x2="338.50" y2="422.60" stroke="#444" stroke-width="1"/>
<line x1="340.50" y1="419.00" x2="340.50" y2="422.60" stroke="#666" stroke-width="1"/>
<line x1="327.50" y1="418.50" x2="327.50" y2="422.60" stroke="#666" stroke-width="1"/>
<line x1="357.50" y1="418.50" x2="357.50" y2="422.60" stroke="#666" stroke-width="1"/>
<line x1="355.50" y1="419.00" x2="355.50" y2="422.60" stroke="#666" stroke-width="1"/>
<line x1="390.50" y1="420.50" x2="390.50" y2="422.60" stroke="#666" stroke-width="1"/>
<line x1="287.50" y1="419.60" x2="287.50" y2="422.60" stroke="#666" stroke-width="1"/>
<line x1="293.50" y1="418.60" x2="293.50" y2="422.60" stroke="#666" stroke-width="1"/>
<line x1="357.50" y1="419.60" x2="357.50" y2="422.60" stroke="#666" stroke-width="1"/>
<line x1="372.50" y1="420.60" x2="372.50" y2="422.60" stroke="#666" stroke-width="1"/>
<line x1="444.00" y1="371.00" x2="444.00" y2="422.60" stroke="#888" stroke-width="1.3"/>
<line x1="445.50" y1="405.60" x2="445.50" y2="422.60" stroke="#444" stroke-width="1"/>
<line x1="446.50" y1="417.00" x2="446.50" y2="422.60" stroke="#555" stroke-width="1"/>
<line x1="475.50" y1="365.20" x2="475.50" y2="422.60" stroke="#222" stroke-width="1"/>
<line x1="477.50" y1="405.00" x2="477.50" y2="422.60" stroke="#555" stroke-width="1"/>
<line x1="478.50" y1="415.00" x2="478.50" y2="422.60" stroke="#555" stroke-width="1"/>
<line x1="493.50" y1="413.00" x2="493.50" y2="422.60" stroke="#444" stroke-width="1"/>
<line x1="495.50" y1="416.00" x2="495.50" y2="422.60" stroke="#555" stroke-width="1"/>
<line x1="491.50" y1="419.00" x2="491.50" y2="422.60" stroke="#666" stroke-width="1"/>
<line x1="37.8" y1="12.2" x2="37.8" y2="211.6" stroke="#222" stroke-width="1.1"/>
<line x1="32.099999999999994" y1="211.10" x2="37.8" y2="211.10" stroke="#222" stroke-width="1.1"/>
<text x="31.199999999999996" y="215.00" class="ax" text-anchor="end">0</text>
<line x1="34.0" y1="207.13" x2="37.8" y2="207.13" stroke="#222" stroke-width="1.1"/>
<line x1="34.0" y1="203.16" x2="37.8" y2="203.16" stroke="#222" stroke-width="1.1"/>
<line x1="34.0" y1="199.20" x2="37.8" y2="199.20" stroke="#222" stroke-width="1.1"/>
<line x1="34.0" y1="195.23" x2="37.8" y2="195.23" stroke="#222" stroke-width="1.1"/>
<line x1="32.099999999999994" y1="191.26" x2="37.8" y2="191.26" stroke="#222" stroke-width="1.1"/>
<text x="31.199999999999996" y="195.16" class="ax" text-anchor="end">10</text>
<line x1="34.0" y1="187.29" x2="37.8" y2="187.29" stroke="#222" stroke-width="1.1"/>
<line x1="34.0" y1="183.32" x2="37.8" y2="183.32" stroke="#222" stroke-width="1.1"/>
<line x1="34.0" y1="179.36" x2="37.8" y2="179.36" stroke="#222" stroke-width="1.1"/>
<line x1="34.0" y1="175.39" x2="37.8" y2="175.39" stroke="#222" stroke-width="1.1"/>
<line x1="32.099999999999994" y1="171.42" x2="37.8" y2="171.42" stroke="#222" stroke-width="1.1"/>
<text x="31.199999999999996" y="175.32" class="ax" text-anchor="end">20</text>
<line x1="34.0" y1="167.45" x2="37.8" y2="167.45" stroke="#222" stroke-width="1.1"/>
<line x1="34.0" y1="163.48" x2="37.8" y2="163.48" stroke="#222" stroke-width="1.1"/>
<line x1="34.0" y1="159.52" x2="37.8" y2="159.52" stroke="#222" stroke-width="1.1"/>
<line x1="34.0" y1="155.55" x2="37.8" y2="155.55" stroke="#222" stroke-width="1.1"/>
<line x1="32.099999999999994" y1="151.58" x2="37.8" y2="151.58" stroke="#222" stroke-width="1.1"/>
<text x="31.199999999999996" y="155.48" class="ax" text-anchor="end">30</text>
<line x1="34.0" y1="147.61" x2="37.8" y2="147.61" stroke="#222" stroke-width="1.1"/>
<line x1="34.0" y1="143.64" x2="37.8" y2="143.64" stroke="#222" stroke-width="1.1"/>
<line x1="34.0" y1="139.68" x2="37.8" y2="139.68" stroke="#222" stroke-width="1.1"/>
<line x1="34.0" y1="135.71" x2="37.8" y2="135.71" stroke="#222" stroke-width="1.1"/>
<line x1="32.099999999999994" y1="131.74" x2="37.8" y2="131.74" stroke="#222" stroke-width="1.1"/>
<text x="31.199999999999996" y="135.64" class="ax" text-anchor="end">40</text>
<line x1="34.0" y1="127.77" x2="37.8" y2="127.77" stroke="#222" stroke-width="1.1"/>
<line x1="34.0" y1="123.80" x2="37.8" y2="123.80" stroke="#222" stroke-width="1.1"/>
<line x1="34.0" y1="119.84" x2="37.8" y2="119.84" stroke="#222" stroke-width="1.1"/>
<line x1="34.0" y1="115.87" x2="37.8" y2="115.87" stroke="#222" stroke-width="1.1"/>
<line x1="32.099999999999994" y1="111.90" x2="37.8" y2="111.90" stroke="#222" stroke-width="1.1"/>
<text x="31.199999999999996" y="115.80" class="ax" text-anchor="end">50</text>
<line x1="34.0" y1="107.93" x2="37.8" y2="107.93" stroke="#222" stroke-width="1.1"/>
<line x1="34.0" y1="103.96" x2="37.8" y2="103.96" stroke="#222" stroke-width="1.1"/>
<line x1="34.0" y1="100.00" x2="37.8" y2="100.00" stroke="#222" stroke-width="1.1"/>
<line x1="34.0" y1="96.03" x2="37.8" y2="96.03" stroke="#222" stroke-width="1.1"/>
<line x1="32.099999999999994" y1="92.06" x2="37.8" y2="92.06" stroke="#222" stroke-width="1.1"/>
<text x="31.199999999999996" y="95.96" class="ax" text-anchor="end">60</text>
<line x1="34.0" y1="88.09" x2="37.8" y2="88.09" stroke="#222" stroke-width="1.1"/>
<line x1="34.0" y1="84.12" x2="37.8" y2="84.12" stroke="#222" stroke-width="1.1"/>
<line x1="34.0" y1="80.16" x2="37.8" y2="80.16" stroke="#222" stroke-width="1.1"/>
<line x1="34.0" y1="76.19" x2="37.8" y2="76.19" stroke="#222" stroke-width="1.1"/>
<line x1="32.099999999999994" y1="72.22" x2="37.8" y2="72.22" stroke="#222" stroke-width="1.1"/>
<text x="31.199999999999996" y="76.12" class="ax" text-anchor="end">70</text>
<line x1="34.0" y1="68.25" x2="37.8" y2="68.25" stroke="#222" stroke-width="1.1"/>
<line x1="34.0" y1="64.28" x2="37.8" y2="64.28" stroke="#222" stroke-width="1.1"/>
<line x1="34.0" y1="60.32" x2="37.8" y2="60.32" stroke="#222" stroke-width="1.1"/>
<line x1="34.0" y1="56.35" x2="37.8" y2="56.35" stroke="#222" stroke-width="1.1"/>
<line x1="32.099999999999994" y1="52.38" x2="37.8" y2="52.38" stroke="#222" stroke-width="1.1"/>
<text x="31.199999999999996" y="56.28" class="ax" text-anchor="end">80</text>
<line x1="34.0" y1="48.41" x2="37.8" y2="48.41" stroke="#222" stroke-width="1.1"/>
<line x1="34.0" y1="44.44" x2="37.8" y2="44.44" stroke="#222" stroke-width="1.1"/>
<line x1="34.0" y1="40.48" x2="37.8" y2="40.48" stroke="#222" stroke-width="1.1"/>
<line x1="34.0" y1="36.51" x2="37.8" y2="36.51" stroke="#222" stroke-width="1.1"/>
<line x1="32.099999999999994" y1="32.54" x2="37.8" y2="32.54" stroke="#222" stroke-width="1.1"/>
<text x="31.199999999999996" y="36.44" class="ax" text-anchor="end">90</text>
<line x1="34.0" y1="28.57" x2="37.8" y2="28.57" stroke="#222" stroke-width="1.1"/>
<line x1="34.0" y1="24.60" x2="37.8" y2="24.60" stroke="#222" stroke-width="1.1"/>
<line x1="34.0" y1="20.64" x2="37.8" y2="20.64" stroke="#222" stroke-width="1.1"/>
<line x1="34.0" y1="16.67" x2="37.8" y2="16.67" stroke="#222" stroke-width="1.1"/>
<line x1="32.099999999999994" y1="12.70" x2="37.8" y2="12.70" stroke="#222" stroke-width="1.1"/>
<text x="31.199999999999996" y="16.60" class="ax" text-anchor="end">100</text>
<line x1="37.8" y1="223.7" x2="37.8" y2="423.1" stroke="#222" stroke-width="1.1"/>
<line x1="32.099999999999994" y1="422.60" x2="37.8" y2="422.60" stroke="#222" stroke-width="1.1"/>
<text x="31.199999999999996" y="426.50" class="ax" text-anchor="end">0</text>
<line x1="34.0" y1="418.63" x2="37.8" y2="418.63" stroke="#222" stroke-width="1.1"/>
<line x1="34.0" y1="414.66" x2="37.8" y2="414.66" stroke="#222" stroke-width="1.1"/>
<line x1="34.0" y1="410.70" x2="37.8" y2="410.70" stroke="#222" stroke-width="1.1"/>
<line x1="34.0" y1="406.73" x2="37.8" y2="406.73" stroke="#222" stroke-width="1.1"/>
<line x1="32.099999999999994" y1="402.76" x2="37.8" y2="402.76" stroke="#222" stroke-width="1.1"/>
<text x="31.199999999999996" y="406.66" class="ax" text-anchor="end">10</text>
<line x1="34.0" y1="398.79" x2="37.8" y2="398.79" stroke="#222" stroke-width="1.1"/>
<line x1="34.0" y1="394.82" x2="37.8" y2="394.82" stroke="#222" stroke-width="1.1"/>
<line x1="34.0" y1="390.86" x2="37.8" y2="390.86" stroke="#222" stroke-width="1.1"/>
<line x1="34.0" y1="386.89" x2="37.8" y2="386.89" stroke="#222" stroke-width="1.1"/>
<line x1="32.099999999999994" y1="382.92" x2="37.8" y2="382.92" stroke="#222" stroke-width="1.1"/>
<text x="31.199999999999996" y="386.82" class="ax" text-anchor="end">20</text>
<line x1="34.0" y1="378.95" x2="37.8" y2="378.95" stroke="#222" stroke-width="1.1"/>
<line x1="34.0" y1="374.98" x2="37.8" y2="374.98" stroke="#222" stroke-width="1.1"/>
<line x1="34.0" y1="371.02" x2="37.8" y2="371.02" stroke="#222" stroke-width="1.1"/>
<line x1="34.0" y1="367.05" x2="37.8" y2="367.05" stroke="#222" stroke-width="1.1"/>
<line x1="32.099999999999994" y1="363.08" x2="37.8" y2="363.08" stroke="#222" stroke-width="1.1"/>
<text x="31.199999999999996" y="366.98" class="ax" text-anchor="end">30</text>
<line x1="34.0" y1="359.11" x2="37.8" y2="359.11" stroke="#222" stroke-width="1.1"/>
<line x1="34.0" y1="355.14" x2="37.8" y2="355.14" stroke="#222" stroke-width="1.1"/>
<line x1="34.0" y1="351.18" x2="37.8" y2="351.18" stroke="#222" stroke-width="1.1"/>
<line x1="34.0" y1="347.21" x2="37.8" y2="347.21" stroke="#222" stroke-width="1.1"/>
<line x1="32.099999999999994" y1="343.24" x2="37.8" y2="343.24" stroke="#222" stroke-width="1.1"/>
<text x="31.199999999999996" y="347.14" class="ax" text-anchor="end">40</text>
<line x1="34.0" y1="339.27" x2="37.8" y2="339.27" stroke="#222" stroke-width="1.1"/>
<line x1="34.0" y1="335.30" x2="37.8" y2="335.30" stroke="#222" stroke-width="1.1"/>
<line x1="34.0" y1="331.34" x2="37.8" y2="331.34" stroke="#222" stroke-width="1.1"/>
<line x1="34.0" y1="327.37" x2="37.8" y2="327.37" stroke="#222" stroke-width="1.1"/>
<line x1="32.099999999999994" y1="323.40" x2="37.8" y2="323.40" stroke="#222" stroke-width="1.1"/>
<text x="31.199999999999996" y="327.30" class="ax" text-anchor="end">50</text>
<line x1="34.0" y1="319.43" x2="37.8" y2="319.43" stroke="#222" stroke-width="1.1"/>
<line x1="34.0" y1="315.46" x2="37.8" y2="315.46" stroke="#222" stroke-width="1.1"/>
<line x1="34.0" y1="311.50" x2="37.8" y2="311.50" stroke="#222" stroke-width="1.1"/>
<line x1="34.0" y1="307.53" x2="37.8" y2="307.53" stroke="#222" stroke-width="1.1"/>
<line x1="32.099999999999994" y1="303.56" x2="37.8" y2="303.56" stroke="#222" stroke-width="1.1"/>
<text x="31.199999999999996" y="307.46" class="ax" text-anchor="end">60</text>
<line x1="34.0" y1="299.59" x2="37.8" y2="299.59" stroke="#222" stroke-width="1.1"/>
<line x1="34.0" y1="295.62" x2="37.8" y2="295.62" stroke="#222" stroke-width="1.1"/>
<line x1="34.0" y1="291.66" x2="37.8" y2="291.66" stroke="#222" stroke-width="1.1"/>
<line x1="34.0" y1="287.69" x2="37.8" y2="287.69" stroke="#222" stroke-width="1.1"/>
<line x1="32.099999999999994" y1="283.72" x2="37.8" y2="283.72" stroke="#222" stroke-width="1.1"/>
<text x="31.199999999999996" y="287.62" class="ax" text-anchor="end">70</text>
<line x1="34.0" y1="279.75" x2="37.8" y2="279.75" stroke="#222" stroke-width="1.1"/>
<line x1="34.0" y1="275.78" x2="37.8" y2="275.78" stroke="#222" stroke-width="1.1"/>
<line x1="34.0" y1="271.82" x2="37.8" y2="271.82" stroke="#222" stroke-width="1.1"/>
<line x1="34.0" y1="267.85" x2="37.8" y2="267.85" stroke="#222" stroke-width="1.1"/>
<line x1="32.099999999999994" y1="263.88" x2="37.8" y2="263.88" stroke="#222" stroke-width="1.1"/>
<text x="31.199999999999996" y="267.78" class="ax" text-anchor="end">80</text>
<line x1="34.0" y1="259.91" x2="37.8" y2="259.91" stroke="#222" stroke-width="1.1"/>
<line x1="34.0" y1="255.94" x2="37.8" y2="255.94" stroke="#222" stroke-width="1.1"/>
<line x1="34.0" y1="251.98" x2="37.8" y2="251.98" stroke="#222" stroke-width="1.1"/>
<line x1="34.0" y1="248.01" x2="37.8" y2="248.01" stroke="#222" stroke-width="1.1"/>
<line x1="32.099999999999994" y1="244.04" x2="37.8" y2="244.04" stroke="#222" stroke-width="1.1"/>
<text x="31.199999999999996" y="247.94" class="ax" text-anchor="end">90</text>
<line x1="34.0" y1="240.07" x2="37.8" y2="240.07" stroke="#222" stroke-width="1.1"/>
<line x1="34.0" y1="236.10" x2="37.8" y2="236.10" stroke="#222" stroke-width="1.1"/>
<line x1="34.0" y1="232.14" x2="37.8" y2="232.14" stroke="#222" stroke-width="1.1"/>
<line x1="34.0" y1="228.17" x2="37.8" y2="228.17" stroke="#222" stroke-width="1.1"/>
<line x1="32.099999999999994" y1="224.20" x2="37.8" y2="224.20" stroke="#222" stroke-width="1.1"/>
<text x="31.199999999999996" y="228.10" class="ax" text-anchor="end">100</text>
<line x1="37.8" y1="211.1" x2="520" y2="211.1" stroke="#222" stroke-width="1.1"/>
<line x1="37.8" y1="422.6" x2="520" y2="422.6" stroke="#222" stroke-width="1.1"/>
<line x1="47.46" y1="422.6" x2="47.46" y2="426.6" stroke="#222" stroke-width="1.1"/>
<line x1="58.89" y1="422.6" x2="58.89" y2="426.6" stroke="#222" stroke-width="1.1"/>
<line x1="70.32" y1="422.6" x2="70.32" y2="426.6" stroke="#222" stroke-width="1.1"/>
<line x1="81.75" y1="422.6" x2="81.75" y2="428.40000000000003" stroke="#222" stroke-width="1.1"/>
<text x="81.15" y="439.3" class="ax" text-anchor="middle">100</text>
<line x1="93.18" y1="422.6" x2="93.18" y2="426.6" stroke="#222" stroke-width="1.1"/>
<line x1="104.61" y1="422.6" x2="104.61" y2="426.6" stroke="#222" stroke-width="1.1"/>
<line x1="116.04" y1="422.6" x2="116.04" y2="426.6" stroke="#222" stroke-width="1.1"/>
<line x1="127.46" y1="422.6" x2="127.46" y2="426.6" stroke="#222" stroke-width="1.1"/>
<line x1="138.89" y1="422.6" x2="138.89" y2="428.40000000000003" stroke="#222" stroke-width="1.1"/>
<text x="138.29" y="439.3" class="ax" text-anchor="middle">150</text>
<line x1="150.32" y1="422.6" x2="150.32" y2="426.6" stroke="#222" stroke-width="1.1"/>
<line x1="161.75" y1="422.6" x2="161.75" y2="426.6" stroke="#222" stroke-width="1.1"/>
<line x1="173.18" y1="422.6" x2="173.18" y2="426.6" stroke="#222" stroke-width="1.1"/>
<line x1="184.61" y1="422.6" x2="184.61" y2="426.6" stroke="#222" stroke-width="1.1"/>
<line x1="196.04" y1="422.6" x2="196.04" y2="428.40000000000003" stroke="#222" stroke-width="1.1"/>
<text x="195.44" y="439.3" class="ax" text-anchor="middle">200</text>
<line x1="207.46" y1="422.6" x2="207.46" y2="426.6" stroke="#222" stroke-width="1.1"/>
<line x1="218.89" y1="422.6" x2="218.89" y2="426.6" stroke="#222" stroke-width="1.1"/>
<line x1="230.32" y1="422.6" x2="230.32" y2="426.6" stroke="#222" stroke-width="1.1"/>
<line x1="241.75" y1="422.6" x2="241.75" y2="426.6" stroke="#222" stroke-width="1.1"/>
<line x1="253.18" y1="422.6" x2="253.18" y2="428.40000000000003" stroke="#222" stroke-width="1.1"/>
<text x="252.58" y="439.3" class="ax" text-anchor="middle">250</text>
<line x1="264.61" y1="422.6" x2="264.61" y2="426.6" stroke="#222" stroke-width="1.1"/>
<line x1="276.04" y1="422.6" x2="276.04" y2="426.6" stroke="#222" stroke-width="1.1"/>
<line x1="287.46" y1="422.6" x2="287.46" y2="426.6" stroke="#222" stroke-width="1.1"/>
<line x1="298.89" y1="422.6" x2="298.89" y2="426.6" stroke="#222" stroke-width="1.1"/>
<line x1="310.32" y1="422.6" x2="310.32" y2="428.40000000000003" stroke="#222" stroke-width="1.1"/>
<text x="309.72" y="439.3" class="ax" text-anchor="middle">300</text>
<line x1="321.75" y1="422.6" x2="321.75" y2="426.6" stroke="#222" stroke-width="1.1"/>
<line x1="333.18" y1="422.6" x2="333.18" y2="426.6" stroke="#222" stroke-width="1.1"/>
<line x1="344.61" y1="422.6" x2="344.61" y2="426.6" stroke="#222" stroke-width="1.1"/>
<line x1="356.04" y1="422.6" x2="356.04" y2="426.6" stroke="#222" stroke-width="1.1"/>
<line x1="367.46" y1="422.6" x2="367.46" y2="428.40000000000003" stroke="#222" stroke-width="1.1"/>
<text x="366.86" y="439.3" class="ax" text-anchor="middle">350</text>
<line x1="378.89" y1="422.6" x2="378.89" y2="426.6" stroke="#222" stroke-width="1.1"/>
<line x1="390.32" y1="422.6" x2="390.32" y2="426.6" stroke="#222" stroke-width="1.1"/>
<line x1="401.75" y1="422.6" x2="401.75" y2="426.6" stroke="#222" stroke-width="1.1"/>
<line x1="413.18" y1="422.6" x2="413.18" y2="426.6" stroke="#222" stroke-width="1.1"/>
<line x1="424.61" y1="422.6" x2="424.61" y2="428.40000000000003" stroke="#222" stroke-width="1.1"/>
<text x="424.01" y="439.3" class="ax" text-anchor="middle">400</text>
<line x1="436.04" y1="422.6" x2="436.04" y2="426.6" stroke="#222" stroke-width="1.1"/>
<line x1="447.46" y1="422.6" x2="447.46" y2="426.6" stroke="#222" stroke-width="1.1"/>
<line x1="458.89" y1="422.6" x2="458.89" y2="426.6" stroke="#222" stroke-width="1.1"/>
<line x1="470.32" y1="422.6" x2="470.32" y2="426.6" stroke="#222" stroke-width="1.1"/>
<line x1="481.75" y1="422.6" x2="481.75" y2="428.40000000000003" stroke="#222" stroke-width="1.1"/>
<text x="481.15" y="439.3" class="ax" text-anchor="middle">450</text>
<line x1="493.18" y1="422.6" x2="493.18" y2="426.6" stroke="#222" stroke-width="1.1"/>
<line x1="504.61" y1="422.6" x2="504.61" y2="426.6" stroke="#222" stroke-width="1.1"/>
<line x1="516.04" y1="422.6" x2="516.04" y2="426.6" stroke="#222" stroke-width="1.1"/>
<text x="280" y="453.1" class="ax" text-anchor="middle" style="letter-spacing:-0.5px">m/z</text>
<text transform="translate(9.5,160.1) rotate(-90)" class="ax" style="letter-spacing:0.1px">Relative <tspan style="letter-spacing:-0.82px">Abundance</tspan></text>
<text x="45.40" y="192.90" class="ax">73</text>
<text x="111.80" y="199.90" class="ax">143</text>
<line x1="127.3" y1="201.2" x2="131.4" y2="201.8" stroke="#3cb043" stroke-width="0.8"/>
<rect x="136.60" y="180.80" width="18.20" height="9.80" fill="#fff" stroke="#1fe81f" stroke-width="1.5"/>
<text x="145.70" y="189.90" class="ax" text-anchor="middle">155</text>
<rect x="163.00" y="185.00" width="18.30" height="11.00" fill="#fff" stroke="#1fe81f" stroke-width="1.5"/>
<text x="172.15" y="194.70" class="ax" text-anchor="middle">183</text>
<rect x="199.60" y="184.00" width="17.70" height="10.00" fill="#fff" stroke="#1fe81f" stroke-width="1.5"/>
<text x="208.45" y="193.20" class="ax" text-anchor="middle">211</text>
<rect x="159.40" y="200.60" width="3.10" height="8.00" fill="none" stroke="#1fe81f" stroke-width="1.5"/>
<rect x="173.50" y="198.20" width="3.10" height="8.00" fill="none" stroke="#5b8a36" stroke-width="1.5"/>
<rect x="189.30" y="171.70" width="3.30" height="8.50" fill="none" stroke="#5b8a36" stroke-width="1.5"/>
<rect x="191.70" y="197.80" width="3.20" height="8.40" fill="none" stroke="#1fe81f" stroke-width="1.5"/>
<rect x="205.20" y="195.30" width="3.20" height="10.50" fill="none" stroke="#5b8a36" stroke-width="1.5"/>
<rect x="175.70" y="0.30" width="20.40" height="12.80" fill="#fff" stroke="#7030a0" stroke-width="1.5"/>
<text x="185.90" y="9.30" class="ax" text-anchor="middle">191</text>
<text transform="translate(158.60,11.50) scale(0.92,1)" class="lb" fill="#7030a0" font-size="16" text-anchor="start" style="font-weight:normal;stroke:#7030a0;stroke-width:0.85px">(p)</text>
<rect x="228.40" y="126.00" width="21.00" height="12.20" fill="#fff" stroke="#5b8a36" stroke-width="1.5"/>
<text transform="translate(238.90,136.30) skewX(-8)" x="-1" y="0" class="ax" text-anchor="middle" style="letter-spacing:-0.1px">237</text>
<text transform="translate(238.30,121.60) scale(0.92,1)" class="lb" fill="#5b8a36" font-size="12" text-anchor="middle">(b3)</text>
<rect x="215.20" y="158.00" width="19.10" height="11.90" fill="#fff" stroke="#7030a0" stroke-width="1.5"/>
<text transform="translate(224.75,168.15) skewX(-8)" x="-1" y="0" class="ax" text-anchor="middle" style="letter-spacing:-0.1px">234</text>
<text transform="translate(224.00,151.30) scale(0.92,1)" class="lb" fill="#7030a0" font-size="15.5" text-anchor="middle" style="font-weight:normal;stroke:#7030a0;stroke-width:0.85px">(o)</text>
<rect x="243.90" y="176.90" width="19.10" height="12.40" fill="#fff" stroke="#ffc000" stroke-width="1.5"/>
<text x="253.45" y="187.30" class="ax" text-anchor="middle">243</text>
<line x1="245.5" y1="187.6" x2="252" y2="187.6" stroke="#3cb043" stroke-width="0.8"/>
<text transform="translate(240.00,171.30) scale(1.0,1)" class="lb" fill="#ffc000" font-size="11.5" text-anchor="start" style="font-weight:normal;stroke:#ffc000;stroke-width:0.25px">(n)<tspan dy="-3.6" font-size="8" style="font-weight:bold;stroke:none">OH7β</tspan></text>
<rect x="255.90" y="190.70" width="2.40" height="10.60" fill="none" stroke="#1fe81f" stroke-width="1.5"/>
<text transform="translate(260.00,198.80) scale(0.92,1)" class="lb" fill="#1fe81f" font-size="9.5" text-anchor="start">(a3’)</text>
<rect x="253.30" y="202.40" width="2.30" height="8.00" fill="none" stroke="#5b8a36" stroke-width="1.5"/>
<text transform="translate(259.20,207.60) scale(1,1)" class="lb" fill="#5b8a36" font-size="7.5" text-anchor="start">(a3)</text>
<rect x="299.40" y="155.20" width="19.50" height="12.80" fill="#fff" stroke="#ffc000" stroke-width="1.5"/>
<text x="309.15" y="165.80" class="ax" text-anchor="middle">299</text>
<text transform="translate(295.00,151.00) scale(1.0,1)" class="lb" fill="#ffc000" font-size="11.5" text-anchor="start" style="font-weight:normal;stroke:#ffc000;stroke-width:0.25px">(l)<tspan dy="-3.6" font-size="8" style="font-weight:bold;stroke:none">OH7β</tspan></text>
<text x="314.40" y="188.80" class="ax">300</text>
<line x1="310.5" y1="191" x2="322.5" y2="189.6" stroke="#3cb043" stroke-width="0.8"/>
<text x="348.60" y="199.30" class="ax">341</text>
<rect x="434.20" y="143.20" width="20.00" height="12.30" fill="#fff" stroke="#ffc000" stroke-width="1.5"/>
<text x="444.20" y="153.55" class="ax" text-anchor="middle">417</text>
<text transform="translate(430.00,141.20) scale(1.0,1)" class="lb" fill="#ffc000" font-size="12" text-anchor="start" style="font-weight:normal;stroke:#ffc000;stroke-width:0.25px">(k)<tspan dy="-3.7" font-size="8" style="font-weight:bold;stroke:none">OH7β</tspan></text>
<rect x="466.70" y="183.90" width="19.70" height="11.30" fill="#fff" stroke="#7f6000" stroke-width="1.5"/>
<text transform="translate(476.55,193.75) skewX(-8)" x="-1" y="0" class="ax" text-anchor="middle" style="letter-spacing:-0.1px">445</text>
<text transform="translate(459.20,181.30) scale(1,1)" class="lb" fill="#7f6000" font-size="12" text-anchor="start">M<tspan dy="-3.7" font-size="7.5" style="font-weight:bold;stroke:none">•+</tspan><tspan dy="3.7">-15</tspan></text>
<text transform="translate(495.30,187.60) scale(1,1)" class="lb" fill="#7f6000" font-size="12" text-anchor="start">M<tspan dy="-3.7" font-size="7.5" style="font-weight:bold;stroke:none">•+</tspan></text>
<rect x="491.90" y="188.70" width="20.00" height="12.30" fill="#fff" stroke="#7f6000" stroke-width="1.5"/>
<text transform="translate(501.90,199.05) skewX(-8)" x="-1" y="0" class="ax" text-anchor="middle" style="letter-spacing:-0.1px">460</text>
<line x1="494.4" y1="199.6" x2="500.7" y2="199.6" stroke="#3cb043" stroke-width="0.8"/>
<text transform="translate(211.00,221.20) scale(0.92,1)" class="lb" fill="#5b8a36" font-size="12.5" text-anchor="start">(b3)</text>
<rect x="228.30" y="212.40" width="20.70" height="10.00" fill="#fff" stroke="#5b8a36" stroke-width="1.5"/>
<text transform="translate(238.65,221.60) skewX(-8)" x="-1" y="0" class="ax" text-anchor="middle" style="letter-spacing:-0.1px">237</text>
<text x="123.30" y="409.30" class="ax">153</text>
<line x1="132.5" y1="410.5" x2="142" y2="412.6" stroke="#3cb043" stroke-width="0.8"/>
<rect x="136.80" y="373.40" width="17.50" height="9.60" fill="#fff" stroke="#1fe81f" stroke-width="1.5"/>
<text x="145.55" y="382.40" class="ax" text-anchor="middle">155</text>
<rect x="162.60" y="396.30" width="19.40" height="11.50" fill="#fff" stroke="#4f7a2e" stroke-width="1.25"/>
<text x="172.30" y="406.25" class="ax" text-anchor="middle">181</text>
<rect x="159.20" y="409.40" width="3.40" height="8.00" fill="none" stroke="#1fe81f" stroke-width="1.5"/>
<rect x="175.50" y="409.40" width="3.10" height="9.60" fill="none" stroke="#1fe81f" stroke-width="1.5"/>
<rect x="189.40" y="372.50" width="3.20" height="13.20" fill="none" stroke="#5b8a36" stroke-width="1.5"/>
<rect x="191.00" y="391.70" width="3.40" height="13.60" fill="none" stroke="#1fe81f" stroke-width="1.5"/>
<rect x="205.60" y="405.20" width="2.90" height="9.80" fill="none" stroke="#5b8a36" stroke-width="1.5"/>
<rect x="176.20" y="319.20" width="19.00" height="12.80" fill="#fff" stroke="#7030a0" stroke-width="1.5"/>
<text x="185.70" y="329.80" class="ax" text-anchor="middle">191</text>
<text transform="translate(185.00,313.00) scale(0.92,1)" class="lb" fill="#7030a0" font-size="15.5" text-anchor="middle" style="font-weight:normal;stroke:#7030a0;stroke-width:0.85px">(p)</text>
<rect x="198.40" y="352.50" width="19.90" height="12.60" fill="#fff" stroke="#1fe81f" stroke-width="1.5"/>
<text x="208.35" y="363.00" class="ax" text-anchor="middle">211</text>
<rect x="214.20" y="396.00" width="20.40" height="11.80" fill="#fff" stroke="#7030a0" stroke-width="1.5"/>
<text transform="translate(224.40,406.10) skewX(-8)" x="-1" y="0" class="ax" text-anchor="middle" style="letter-spacing:-0.1px">234</text>
<text transform="translate(226.30,390.00) scale(0.92,1)" class="lb" fill="#7030a0" font-size="15" text-anchor="middle" style="font-weight:normal;stroke:#7030a0;stroke-width:0.85px">(o)</text>
<rect x="247.00" y="352.70" width="20.70" height="12.10" fill="#fff" stroke="#1fe81f" stroke-width="1.5"/>
<text x="257.35" y="362.95" class="ax" text-anchor="middle">253</text>
<text transform="translate(259.20,348.00) scale(0.92,1)" class="lb" fill="#1fe81f" font-size="12" text-anchor="middle">(a3’)</text>
<rect x="243.50" y="394.60" width="3.50" height="14.30" fill="none" stroke="#ffc000" stroke-width="1.5"/>
<text transform="translate(247.6,393.6) rotate(-90)" class="lb" fill="#ffc000" font-size="8.8" style="font-weight:normal">(n)<tspan dy="-3.2" font-size="7.2" style="font-weight:bold">OH7α</tspan></text>
<rect x="253.80" y="386.40" width="2.60" height="7.80" fill="none" stroke="#5b8a36" stroke-width="1.5"/>
<text transform="translate(257.40,392.30) scale(1,1)" class="lb" fill="#5b8a36" font-size="7.5" text-anchor="start">(a3)</text>
<rect x="299.10" y="355.60" width="19.70" height="11.40" fill="#fff" stroke="#ffc000" stroke-width="1.5"/>
<text x="308.95" y="365.50" class="ax" text-anchor="middle">299</text>
<text transform="translate(294.00,352.80) scale(1.0,1)" class="lb" fill="#ffc000" font-size="11.5" text-anchor="start" style="font-weight:normal;stroke:#ffc000;stroke-width:0.25px">(l)<tspan dy="-3.6" font-size="8" style="font-weight:bold;stroke:none">OH7α</tspan></text>
<text x="314.40" y="405.80" class="ax">300</text>
<line x1="310.5" y1="408.4" x2="322" y2="406.6" stroke="#3cb043" stroke-width="0.8"/>
<text x="340.40" y="412.70" class="ax">325</text>
<line x1="339" y1="414.6" x2="350" y2="413.1" stroke="#3cb043" stroke-width="0.8"/>
<rect x="386.80" y="417.30" width="6.80" height="3.70" fill="none" stroke="#7f6000" stroke-width="1.5"/>
<text transform="translate(378.50,416.00) scale(1,1)" class="lb" fill="#7f6000" font-size="12" text-anchor="start">M<tspan dy="-3.7" font-size="7.5" style="font-weight:bold;stroke:none">•+</tspan><tspan dy="3.7">-90</tspan></text>
<rect x="434.60" y="358.90" width="20.60" height="11.70" fill="#fff" stroke="#ffc000" stroke-width="1.5"/>
<text x="444.90" y="368.95" class="ax" text-anchor="middle">417</text>
<text transform="translate(427.50,355.80) scale(1.0,1)" class="lb" fill="#ffc000" font-size="12" text-anchor="start" style="font-weight:normal;stroke:#ffc000;stroke-width:0.25px">(k)<tspan dy="-3.7" font-size="8" style="font-weight:bold;stroke:none">OH7α</tspan></text>
<text x="449.20" y="402.80" class="ax">418</text>
<line x1="445.6" y1="405.4" x2="458" y2="403.2" stroke="#3cb043" stroke-width="0.8"/>
<rect x="465.00" y="352.20" width="22.80" height="12.60" fill="#fff" stroke="#7f6000" stroke-width="1.5"/>
<text transform="translate(476.40,362.70) skewX(-8)" x="-1" y="0" class="ax" text-anchor="middle" style="letter-spacing:-0.1px">445</text>
<text transform="translate(462.80,351.60) scale(1,1)" class="lb" fill="#7f6000" font-size="12" text-anchor="start">M<tspan dy="-3.7" font-size="7.5" style="font-weight:bold;stroke:none">•+</tspan><tspan dy="3.7">-15</tspan></text>
<rect x="491.00" y="409.60" width="5.00" height="9.60" fill="none" stroke="#7f6000" stroke-width="1.5"/>
<text transform="translate(485.30,405.00) scale(1,1)" class="lb" fill="#7f6000" font-size="12" text-anchor="start">M<tspan dy="-3.7" font-size="7.5" style="font-weight:bold;stroke:none">•+</tspan></text>
<text x="42.2" y="22.6" class="ti">7<tspan class="gk">β</tspan>-hydroxy-DHA</text>
<text x="42.2" y="241.4" class="ti">7<tspan class="gk">α</tspan>-hydroxy-DHA</text>
<g><line x1="48.9" y1="66.20" x2="60" y2="59.90" stroke="#111" stroke-width="1.3" stroke-linecap="round"/><line x1="60" y1="59.90" x2="72" y2="66.20" stroke="#111" stroke-width="1.3" stroke-linecap="round"/><line x1="72" y1="66.20" x2="72" y2="79.20" stroke="#111" stroke-width="1.3" stroke-linecap="round"/><line x1="72" y1="79.20" x2="60" y2="85.90" stroke="#111" stroke-width="1.3" stroke-linecap="round"/><line x1="60" y1="85.90" x2="48.9" y2="79.20" stroke="#111" stroke-width="1.3" stroke-linecap="round"/><line x1="48.9" y1="79.20" x2="48.9" y2="66.20" stroke="#111" stroke-width="1.3" stroke-linecap="round"/><line x1="72" y1="66.20" x2="83.7" y2="59.90" stroke="#111" stroke-width="1.3" stroke-linecap="round"/><line x1="83.7" y1="59.90" x2="95" y2="66.20" stroke="#111" stroke-width="1.3" stroke-linecap="round"/><line x1="95" y1="66.20" x2="95" y2="79.20" stroke="#111" stroke-width="1.3" stroke-linecap="round"/><line x1="95" y1="79.20" x2="83.7" y2="85.90" stroke="#111" stroke-width="1.3" stroke-linecap="round"/><line x1="83.7" y1="85.90" x2="72" y2="79.20" stroke="#111" stroke-width="1.3" stroke-linecap="round"/><line x1="83.7" y1="59.90" x2="83.7" y2="47.30" stroke="#111" stroke-width="1.3" stroke-linecap="round"/><line x1="83.7" y1="47.30" x2="95" y2="40.40" stroke="#111" stroke-width="1.3" stroke-linecap="round"/><line x1="95" y1="40.40" x2="106.8" y2="47.30" stroke="#111" stroke-width="1.3" stroke-linecap="round"/><line x1="106.8" y1="47.30" x2="106.8" y2="59.90" stroke="#111" stroke-width="1.3" stroke-linecap="round"/><line x1="106.8" y1="59.90" x2="95" y2="66.20" stroke="#111" stroke-width="1.3" stroke-linecap="round"/><line x1="85.6" y1="48.40" x2="95" y2="42.80" stroke="#111" stroke-width="1.3" stroke-linecap="round"/><line x1="104.9" y1="48.60" x2="104.9" y2="58.80" stroke="#111" stroke-width="1.3" stroke-linecap="round"/><line x1="84.9" y1="62.20" x2="94.2" y2="67.60" stroke="#111" stroke-width="1.3" stroke-linecap="round"/><line x1="106.8" y1="47.30" x2="118.1" y2="39.40" stroke="#111" stroke-width="1.3" stroke-linecap="round"/><line x1="118.1" y1="39.40" x2="118.1" y2="26.40" stroke="#111" stroke-width="1.3" stroke-linecap="round"/><line x1="118.1" y1="39.40" x2="129.2" y2="45.60" stroke="#111" stroke-width="1.3" stroke-linecap="round"/><polygon points="72,66.20 73.30,53.00 70.70,53.00" fill="#111"/><polygon points="60,85.90 52.41,95.63 54.99,97.17" fill="#111"/><line x1="60.47" y1="87.14" x2="60.86" y2="86.91" stroke="#111" stroke-width="1.1"/><line x1="60.94" y1="88.38" x2="61.71" y2="87.92" stroke="#111" stroke-width="1.1"/><line x1="61.41" y1="89.62" x2="62.57" y2="88.93" stroke="#111" stroke-width="1.1"/><line x1="61.87" y1="90.86" x2="63.43" y2="89.94" stroke="#111" stroke-width="1.1"/><line x1="62.34" y1="92.10" x2="64.28" y2="90.95" stroke="#111" stroke-width="1.1"/><line x1="62.81" y1="93.34" x2="65.14" y2="91.96" stroke="#111" stroke-width="1.1"/><line x1="63.28" y1="94.57" x2="65.99" y2="92.98" stroke="#111" stroke-width="1.1"/><line x1="63.75" y1="95.81" x2="66.85" y2="93.99" stroke="#111" stroke-width="1.1"/><polygon points="95,79.20 103.09,86.34 104.91,83.46" fill="#111"/><text x="66.2" y="97.90" class="tiny">COOTMS</text><text x="104.8" y="87.50" class="tiny">OTMS</text></g>
<g><line x1="48.9" y1="284.70" x2="60" y2="278.40" stroke="#111" stroke-width="1.3" stroke-linecap="round"/><line x1="60" y1="278.40" x2="72" y2="284.70" stroke="#111" stroke-width="1.3" stroke-linecap="round"/><line x1="72" y1="284.70" x2="72" y2="297.70" stroke="#111" stroke-width="1.3" stroke-linecap="round"/><line x1="72" y1="297.70" x2="60" y2="304.40" stroke="#111" stroke-width="1.3" stroke-linecap="round"/><line x1="60" y1="304.40" x2="48.9" y2="297.70" stroke="#111" stroke-width="1.3" stroke-linecap="round"/><line x1="48.9" y1="297.70" x2="48.9" y2="284.70" stroke="#111" stroke-width="1.3" stroke-linecap="round"/><line x1="72" y1="284.70" x2="83.7" y2="278.40" stroke="#111" stroke-width="1.3" stroke-linecap="round"/><line x1="83.7" y1="278.40" x2="95" y2="284.70" stroke="#111" stroke-width="1.3" stroke-linecap="round"/><line x1="95" y1="284.70" x2="95" y2="297.70" stroke="#111" stroke-width="1.3" stroke-linecap="round"/><line x1="95" y1="297.70" x2="83.7" y2="304.40" stroke="#111" stroke-width="1.3" stroke-linecap="round"/><line x1="83.7" y1="304.40" x2="72" y2="297.70" stroke="#111" stroke-width="1.3" stroke-linecap="round"/><line x1="83.7" y1="278.40" x2="83.7" y2="265.80" stroke="#111" stroke-width="1.3" stroke-linecap="round"/><line x1="83.7" y1="265.80" x2="95" y2="258.90" stroke="#111" stroke-width="1.3" stroke-linecap="round"/><line x1="95" y1="258.90" x2="106.8" y2="265.80" stroke="#111" stroke-width="1.3" stroke-linecap="round"/><line x1="106.8" y1="265.80" x2="106.8" y2="278.40" stroke="#111" stroke-width="1.3" stroke-linecap="round"/><line x1="106.8" y1="278.40" x2="95" y2="284.70" stroke="#111" stroke-width="1.3" stroke-linecap="round"/><line x1="85.6" y1="266.90" x2="95" y2="261.30" stroke="#111" stroke-width="1.3" stroke-linecap="round"/><line x1="104.9" y1="267.10" x2="104.9" y2="277.30" stroke="#111" stroke-width="1.3" stroke-linecap="round"/><line x1="84.9" y1="280.70" x2="94.2" y2="286.10" stroke="#111" stroke-width="1.3" stroke-linecap="round"/><line x1="106.8" y1="265.80" x2="118.1" y2="257.90" stroke="#111" stroke-width="1.3" stroke-linecap="round"/><line x1="118.1" y1="257.90" x2="118.1" y2="244.90" stroke="#111" stroke-width="1.3" stroke-linecap="round"/><line x1="118.1" y1="257.90" x2="129.2" y2="264.10" stroke="#111" stroke-width="1.3" stroke-linecap="round"/><polygon points="72,284.70 73.30,271.50 70.70,271.50" fill="#111"/><polygon points="60,304.40 52.10,314.94 54.70,316.46" fill="#111"/><line x1="60.47" y1="305.64" x2="60.86" y2="305.41" stroke="#111" stroke-width="1.1"/><line x1="60.94" y1="306.88" x2="61.71" y2="306.42" stroke="#111" stroke-width="1.1"/><line x1="61.41" y1="308.12" x2="62.57" y2="307.43" stroke="#111" stroke-width="1.1"/><line x1="61.87" y1="309.36" x2="63.43" y2="308.44" stroke="#111" stroke-width="1.1"/><line x1="62.34" y1="310.60" x2="64.28" y2="309.45" stroke="#111" stroke-width="1.1"/><line x1="62.81" y1="311.84" x2="65.14" y2="310.46" stroke="#111" stroke-width="1.1"/><line x1="63.28" y1="313.07" x2="65.99" y2="311.48" stroke="#111" stroke-width="1.1"/><line x1="63.75" y1="314.31" x2="66.85" y2="312.49" stroke="#111" stroke-width="1.1"/><line x1="95.77" y1="298.45" x2="95.95" y2="298.19" stroke="#111" stroke-width="1.1"/><line x1="96.53" y1="299.20" x2="96.91" y2="298.68" stroke="#111" stroke-width="1.1"/><line x1="97.30" y1="299.95" x2="97.86" y2="299.17" stroke="#111" stroke-width="1.1"/><line x1="98.07" y1="300.70" x2="98.81" y2="299.66" stroke="#111" stroke-width="1.1"/><line x1="98.83" y1="301.45" x2="99.77" y2="300.15" stroke="#111" stroke-width="1.1"/><line x1="99.60" y1="302.20" x2="100.72" y2="300.64" stroke="#111" stroke-width="1.1"/><line x1="100.37" y1="302.95" x2="101.67" y2="301.13" stroke="#111" stroke-width="1.1"/><line x1="101.13" y1="303.70" x2="102.63" y2="301.62" stroke="#111" stroke-width="1.1"/><line x1="101.90" y1="304.45" x2="103.58" y2="302.11" stroke="#111" stroke-width="1.1"/><line x1="102.66" y1="305.20" x2="104.54" y2="302.60" stroke="#111" stroke-width="1.1"/><text x="65.8" y="317.70" class="tiny">COOTMS</text><text x="104.6" y="306.40" class="tiny">OTMS</text></g>
</svg>
</body></html>
